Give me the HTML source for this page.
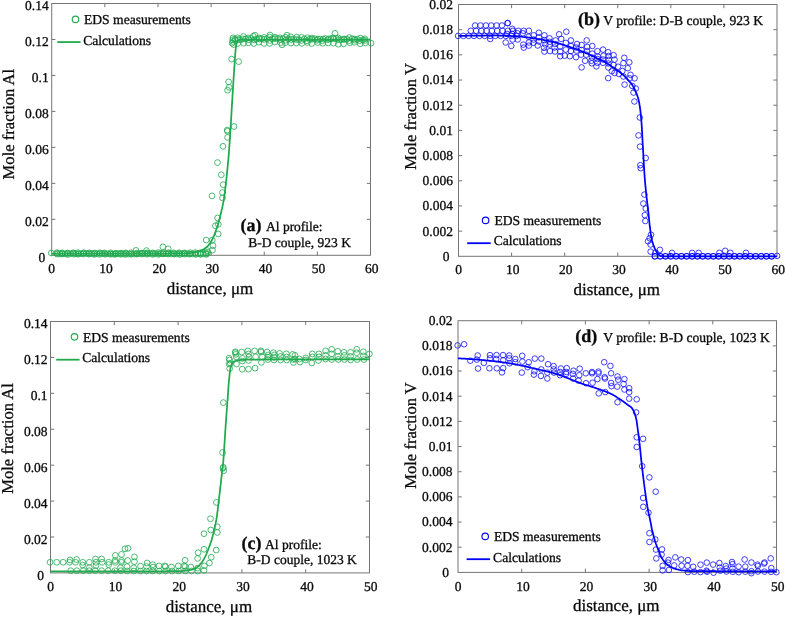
<!DOCTYPE html>
<html><head><meta charset="utf-8"><title>Diffusion profiles</title>
<style>
html,body{margin:0;padding:0;background:#fff;}
svg{display:block;font-family:"Liberation Serif","DejaVu Serif",serif;}
text{fill:#0a0a0a;stroke:#0a0a0a;stroke-width:0.3px;text-rendering:geometricPrecision;}
</style></head><body>
<svg width="785" height="617" viewBox="0 0 785 617">
<rect width="785" height="617" fill="#fff"/>
<g>
<rect x="51.7" y="3.5" width="318.8" height="251.8" fill="none" stroke="#757575" stroke-width="1"/>
<text x="51.70" y="273.4" text-anchor="middle" font-size="13.5">0</text>
<path d="M104.83 255.3 v-3.7 M104.83 3.5 v3.7" stroke="#757575" stroke-width="1" fill="none"/>
<text x="106.03" y="273.4" text-anchor="middle" font-size="13.5">10</text>
<path d="M157.97 255.3 v-3.7 M157.97 3.5 v3.7" stroke="#757575" stroke-width="1" fill="none"/>
<text x="159.17" y="273.4" text-anchor="middle" font-size="13.5">20</text>
<path d="M211.10 255.3 v-3.7 M211.10 3.5 v3.7" stroke="#757575" stroke-width="1" fill="none"/>
<text x="212.30" y="273.4" text-anchor="middle" font-size="13.5">30</text>
<path d="M264.23 255.3 v-3.7 M264.23 3.5 v3.7" stroke="#757575" stroke-width="1" fill="none"/>
<text x="265.43" y="273.4" text-anchor="middle" font-size="13.5">40</text>
<path d="M317.37 255.3 v-3.7 M317.37 3.5 v3.7" stroke="#757575" stroke-width="1" fill="none"/>
<text x="318.57" y="273.4" text-anchor="middle" font-size="13.5">50</text>
<text x="371.70" y="273.4" text-anchor="middle" font-size="13.5">60</text>
<text x="45.2" y="262.20" text-anchor="end" font-size="13.5">0</text>
<path d="M51.7 219.33 h3.7 M370.5 219.33 h-3.7" stroke="#757575" stroke-width="1" fill="none"/>
<text x="48.7" y="226.23" text-anchor="end" font-size="13.5">0.02</text>
<path d="M51.7 183.36 h3.7 M370.5 183.36 h-3.7" stroke="#757575" stroke-width="1" fill="none"/>
<text x="48.7" y="190.26" text-anchor="end" font-size="13.5">0.04</text>
<path d="M51.7 147.39 h3.7 M370.5 147.39 h-3.7" stroke="#757575" stroke-width="1" fill="none"/>
<text x="48.7" y="154.29" text-anchor="end" font-size="13.5">0.06</text>
<path d="M51.7 111.41 h3.7 M370.5 111.41 h-3.7" stroke="#757575" stroke-width="1" fill="none"/>
<text x="48.7" y="118.31" text-anchor="end" font-size="13.5">0.08</text>
<path d="M51.7 75.44 h3.7 M370.5 75.44 h-3.7" stroke="#757575" stroke-width="1" fill="none"/>
<text x="48.7" y="82.34" text-anchor="end" font-size="13.5">0.1</text>
<path d="M51.7 39.47 h3.7 M370.5 39.47 h-3.7" stroke="#757575" stroke-width="1" fill="none"/>
<text x="48.7" y="46.37" text-anchor="end" font-size="13.5">0.12</text>
<text x="48.7" y="10.40" text-anchor="end" font-size="13.5">0.14</text>
<text transform="translate(14 124.1) rotate(-90)" text-anchor="middle" font-size="16.6">Mole fraction Al</text>
<text x="210.0" y="294.2" text-anchor="middle" font-size="17">distance, μm</text>
<g fill="none" stroke="#1faa4e" stroke-width="0.8"><circle cx="228.6" cy="81.9" r="2.9"/><circle cx="229.1" cy="87.3" r="2.9"/><circle cx="227.6" cy="90.2" r="2.9"/><circle cx="234.0" cy="126.5" r="2.9"/><circle cx="227.2" cy="130.1" r="2.9"/><circle cx="227.6" cy="137.4" r="2.9"/><circle cx="223.0" cy="146.3" r="2.9"/><circle cx="217.5" cy="162.6" r="2.9"/><circle cx="221.3" cy="174.8" r="2.9"/><circle cx="223.2" cy="184.7" r="2.9"/><circle cx="222.5" cy="192.5" r="2.9"/><circle cx="212.0" cy="195.9" r="2.9"/><circle cx="222.5" cy="197.9" r="2.9"/><circle cx="217.6" cy="218.0" r="2.9"/><circle cx="218.3" cy="224.3" r="2.9"/><circle cx="215.4" cy="225.8" r="2.9"/><circle cx="218.2" cy="234.0" r="2.9"/><circle cx="206.2" cy="240.1" r="2.9"/><circle cx="212.3" cy="240.1" r="2.9"/><circle cx="213.0" cy="245.7" r="2.9"/><circle cx="212.5" cy="250.1" r="2.9"/><circle cx="207.2" cy="250.6" r="2.9"/><circle cx="231.6" cy="59.1" r="2.9"/><circle cx="238.7" cy="61.6" r="2.9"/><circle cx="227.5" cy="131.2" r="2.9"/><circle cx="51.3" cy="253.0" r="2.9"/><circle cx="56.9" cy="252.7" r="2.9"/><circle cx="57.3" cy="253.3" r="2.9"/><circle cx="57.2" cy="254.1" r="2.9"/><circle cx="62.0" cy="252.9" r="2.9"/><circle cx="62.0" cy="253.6" r="2.9"/><circle cx="62.0" cy="254.0" r="2.9"/><circle cx="67.7" cy="253.1" r="2.9"/><circle cx="67.4" cy="253.4" r="2.9"/><circle cx="67.9" cy="254.5" r="2.9"/><circle cx="73.1" cy="252.8" r="2.9"/><circle cx="73.5" cy="253.3" r="2.9"/><circle cx="73.4" cy="254.1" r="2.9"/><circle cx="78.0" cy="252.7" r="2.9"/><circle cx="78.2" cy="253.8" r="2.9"/><circle cx="78.1" cy="254.2" r="2.9"/><circle cx="83.8" cy="252.8" r="2.9"/><circle cx="83.7" cy="253.3" r="2.9"/><circle cx="83.2" cy="254.0" r="2.9"/><circle cx="89.2" cy="252.9" r="2.9"/><circle cx="88.8" cy="253.7" r="2.9"/><circle cx="89.0" cy="254.1" r="2.9"/><circle cx="94.6" cy="253.0" r="2.9"/><circle cx="94.1" cy="253.6" r="2.9"/><circle cx="94.3" cy="254.4" r="2.9"/><circle cx="99.9" cy="252.8" r="2.9"/><circle cx="100.1" cy="253.4" r="2.9"/><circle cx="99.6" cy="254.4" r="2.9"/><circle cx="104.6" cy="252.9" r="2.9"/><circle cx="104.5" cy="253.7" r="2.9"/><circle cx="105.2" cy="254.2" r="2.9"/><circle cx="110.6" cy="252.8" r="2.9"/><circle cx="110.5" cy="253.7" r="2.9"/><circle cx="110.3" cy="254.2" r="2.9"/><circle cx="115.9" cy="253.2" r="2.9"/><circle cx="115.6" cy="253.7" r="2.9"/><circle cx="115.1" cy="254.3" r="2.9"/><circle cx="121.0" cy="253.2" r="2.9"/><circle cx="121.2" cy="253.5" r="2.9"/><circle cx="120.8" cy="254.3" r="2.9"/><circle cx="125.7" cy="252.9" r="2.9"/><circle cx="125.9" cy="253.4" r="2.9"/><circle cx="125.8" cy="254.4" r="2.9"/><circle cx="131.2" cy="252.7" r="2.9"/><circle cx="131.4" cy="253.8" r="2.9"/><circle cx="131.1" cy="254.2" r="2.9"/><circle cx="136.9" cy="253.1" r="2.9"/><circle cx="137.2" cy="253.8" r="2.9"/><circle cx="136.6" cy="254.1" r="2.9"/><circle cx="142.0" cy="253.1" r="2.9"/><circle cx="142.6" cy="253.4" r="2.9"/><circle cx="141.8" cy="254.0" r="2.9"/><circle cx="147.2" cy="252.9" r="2.9"/><circle cx="147.6" cy="253.5" r="2.9"/><circle cx="147.0" cy="254.2" r="2.9"/><circle cx="152.7" cy="252.9" r="2.9"/><circle cx="153.2" cy="253.7" r="2.9"/><circle cx="152.8" cy="254.3" r="2.9"/><circle cx="158.3" cy="252.6" r="2.9"/><circle cx="158.5" cy="253.8" r="2.9"/><circle cx="158.5" cy="254.4" r="2.9"/><circle cx="163.3" cy="252.8" r="2.9"/><circle cx="163.0" cy="253.7" r="2.9"/><circle cx="163.0" cy="253.9" r="2.9"/><circle cx="168.4" cy="252.7" r="2.9"/><circle cx="168.6" cy="253.3" r="2.9"/><circle cx="168.2" cy="254.0" r="2.9"/><circle cx="173.6" cy="252.8" r="2.9"/><circle cx="173.6" cy="253.8" r="2.9"/><circle cx="174.2" cy="254.0" r="2.9"/><circle cx="179.1" cy="252.8" r="2.9"/><circle cx="179.2" cy="253.4" r="2.9"/><circle cx="179.7" cy="254.5" r="2.9"/><circle cx="184.6" cy="252.9" r="2.9"/><circle cx="184.3" cy="253.4" r="2.9"/><circle cx="184.5" cy="254.1" r="2.9"/><circle cx="190.3" cy="252.7" r="2.9"/><circle cx="189.5" cy="253.9" r="2.9"/><circle cx="190.0" cy="254.0" r="2.9"/><circle cx="195.3" cy="252.6" r="2.9"/><circle cx="195.3" cy="253.9" r="2.9"/><circle cx="195.7" cy="254.3" r="2.9"/><circle cx="200.4" cy="252.8" r="2.9"/><circle cx="200.3" cy="253.8" r="2.9"/><circle cx="200.7" cy="254.4" r="2.9"/><circle cx="205.8" cy="252.7" r="2.9"/><circle cx="206.2" cy="253.9" r="2.9"/><circle cx="206.3" cy="254.4" r="2.9"/><circle cx="59.8" cy="253.9" r="2.9"/><circle cx="65.1" cy="253.8" r="2.9"/><circle cx="70.4" cy="253.5" r="2.9"/><circle cx="75.7" cy="253.7" r="2.9"/><circle cx="81.0" cy="253.6" r="2.9"/><circle cx="86.3" cy="253.4" r="2.9"/><circle cx="91.7" cy="253.4" r="2.9"/><circle cx="97.0" cy="253.6" r="2.9"/><circle cx="102.3" cy="253.6" r="2.9"/><circle cx="107.6" cy="253.8" r="2.9"/><circle cx="112.9" cy="254.0" r="2.9"/><circle cx="118.2" cy="253.7" r="2.9"/><circle cx="123.6" cy="254.0" r="2.9"/><circle cx="128.9" cy="254.0" r="2.9"/><circle cx="134.2" cy="254.0" r="2.9"/><circle cx="139.5" cy="253.6" r="2.9"/><circle cx="144.8" cy="253.5" r="2.9"/><circle cx="150.1" cy="253.5" r="2.9"/><circle cx="155.4" cy="253.5" r="2.9"/><circle cx="160.8" cy="253.5" r="2.9"/><circle cx="166.1" cy="253.8" r="2.9"/><circle cx="171.4" cy="253.9" r="2.9"/><circle cx="176.7" cy="253.9" r="2.9"/><circle cx="182.0" cy="253.7" r="2.9"/><circle cx="187.3" cy="253.8" r="2.9"/><circle cx="192.6" cy="253.9" r="2.9"/><circle cx="198.0" cy="253.5" r="2.9"/><circle cx="203.3" cy="253.8" r="2.9"/><circle cx="162.9" cy="246.9" r="2.9"/><circle cx="168.2" cy="248.8" r="2.9"/><circle cx="207.7" cy="252.4" r="2.9"/><circle cx="136.0" cy="250.4" r="2.9"/><circle cx="146.5" cy="250.6" r="2.9"/><circle cx="233.0" cy="37.8" r="2.9"/><circle cx="232.8" cy="39.6" r="2.9"/><circle cx="232.1" cy="43.2" r="2.9"/><circle cx="237.6" cy="37.8" r="2.9"/><circle cx="238.4" cy="39.4" r="2.9"/><circle cx="237.7" cy="43.5" r="2.9"/><circle cx="243.4" cy="36.5" r="2.9"/><circle cx="242.7" cy="38.9" r="2.9"/><circle cx="243.6" cy="43.2" r="2.9"/><circle cx="248.0" cy="37.9" r="2.9"/><circle cx="249.0" cy="39.9" r="2.9"/><circle cx="248.3" cy="42.7" r="2.9"/><circle cx="253.3" cy="36.2" r="2.9"/><circle cx="254.3" cy="39.9" r="2.9"/><circle cx="253.8" cy="43.5" r="2.9"/><circle cx="259.0" cy="37.9" r="2.9"/><circle cx="259.5" cy="39.0" r="2.9"/><circle cx="258.8" cy="42.2" r="2.9"/><circle cx="264.1" cy="37.4" r="2.9"/><circle cx="264.1" cy="39.4" r="2.9"/><circle cx="264.0" cy="43.4" r="2.9"/><circle cx="269.5" cy="37.1" r="2.9"/><circle cx="269.8" cy="40.4" r="2.9"/><circle cx="269.6" cy="43.4" r="2.9"/><circle cx="275.0" cy="37.3" r="2.9"/><circle cx="275.1" cy="38.6" r="2.9"/><circle cx="275.0" cy="42.0" r="2.9"/><circle cx="279.7" cy="37.8" r="2.9"/><circle cx="280.0" cy="39.5" r="2.9"/><circle cx="280.6" cy="42.7" r="2.9"/><circle cx="285.5" cy="37.2" r="2.9"/><circle cx="285.7" cy="40.2" r="2.9"/><circle cx="285.2" cy="42.7" r="2.9"/><circle cx="290.7" cy="36.8" r="2.9"/><circle cx="291.3" cy="39.6" r="2.9"/><circle cx="291.0" cy="43.1" r="2.9"/><circle cx="296.8" cy="37.1" r="2.9"/><circle cx="296.4" cy="39.6" r="2.9"/><circle cx="296.3" cy="43.0" r="2.9"/><circle cx="301.5" cy="37.3" r="2.9"/><circle cx="301.6" cy="40.5" r="2.9"/><circle cx="301.8" cy="43.4" r="2.9"/><circle cx="307.5" cy="37.7" r="2.9"/><circle cx="307.0" cy="40.7" r="2.9"/><circle cx="307.3" cy="42.5" r="2.9"/><circle cx="311.8" cy="38.1" r="2.9"/><circle cx="311.7" cy="39.3" r="2.9"/><circle cx="311.7" cy="43.5" r="2.9"/><circle cx="317.9" cy="39.0" r="2.9"/><circle cx="317.1" cy="40.2" r="2.9"/><circle cx="317.7" cy="42.5" r="2.9"/><circle cx="323.3" cy="39.1" r="2.9"/><circle cx="322.5" cy="40.7" r="2.9"/><circle cx="322.7" cy="43.2" r="2.9"/><circle cx="328.8" cy="38.9" r="2.9"/><circle cx="327.8" cy="39.7" r="2.9"/><circle cx="328.2" cy="42.9" r="2.9"/><circle cx="333.1" cy="37.8" r="2.9"/><circle cx="333.8" cy="38.8" r="2.9"/><circle cx="333.6" cy="43.1" r="2.9"/><circle cx="338.2" cy="37.9" r="2.9"/><circle cx="339.0" cy="39.8" r="2.9"/><circle cx="338.3" cy="44.2" r="2.9"/><circle cx="344.5" cy="39.1" r="2.9"/><circle cx="343.7" cy="39.3" r="2.9"/><circle cx="343.6" cy="43.8" r="2.9"/><circle cx="349.2" cy="37.5" r="2.9"/><circle cx="349.3" cy="40.6" r="2.9"/><circle cx="349.8" cy="42.7" r="2.9"/><circle cx="354.3" cy="39.0" r="2.9"/><circle cx="354.8" cy="40.2" r="2.9"/><circle cx="354.3" cy="42.3" r="2.9"/><circle cx="360.3" cy="38.1" r="2.9"/><circle cx="359.6" cy="40.7" r="2.9"/><circle cx="360.2" cy="43.8" r="2.9"/><circle cx="364.9" cy="38.9" r="2.9"/><circle cx="364.9" cy="40.5" r="2.9"/><circle cx="365.3" cy="42.9" r="2.9"/><circle cx="235.2" cy="39.3" r="2.9"/><circle cx="240.5" cy="39.9" r="2.9"/><circle cx="245.8" cy="38.8" r="2.9"/><circle cx="251.1" cy="38.6" r="2.9"/><circle cx="256.4" cy="39.2" r="2.9"/><circle cx="261.7" cy="38.8" r="2.9"/><circle cx="267.1" cy="38.6" r="2.9"/><circle cx="272.4" cy="38.7" r="2.9"/><circle cx="277.7" cy="38.5" r="2.9"/><circle cx="283.0" cy="38.7" r="2.9"/><circle cx="288.3" cy="38.9" r="2.9"/><circle cx="293.6" cy="38.9" r="2.9"/><circle cx="298.9" cy="39.6" r="2.9"/><circle cx="304.3" cy="38.9" r="2.9"/><circle cx="309.6" cy="39.2" r="2.9"/><circle cx="314.9" cy="38.7" r="2.9"/><circle cx="320.2" cy="39.0" r="2.9"/><circle cx="325.5" cy="38.4" r="2.9"/><circle cx="330.8" cy="38.8" r="2.9"/><circle cx="336.2" cy="38.4" r="2.9"/><circle cx="341.5" cy="39.6" r="2.9"/><circle cx="346.8" cy="39.3" r="2.9"/><circle cx="352.1" cy="38.7" r="2.9"/><circle cx="357.4" cy="39.2" r="2.9"/><circle cx="362.7" cy="39.9" r="2.9"/><circle cx="335.0" cy="33.3" r="2.9"/><circle cx="371.0" cy="43.2" r="2.9"/><circle cx="232.8" cy="41.5" r="2.9"/><circle cx="233.6" cy="44.5" r="2.9"/><circle cx="235.2" cy="40.3" r="2.9"/><circle cx="282.0" cy="44.8" r="2.9"/><circle cx="255.0" cy="35.2" r="2.9"/><circle cx="270.0" cy="35.0" r="2.9"/><circle cx="287.0" cy="35.2" r="2.9"/></g>
<path d="M51.7 253.5 L52.7 253.5 L53.7 253.5 L54.7 253.5 L55.7 253.5 L56.7 253.5 L57.7 253.5 L58.7 253.5 L59.7 253.5 L60.7 253.5 L61.7 253.5 L62.7 253.5 L63.7 253.5 L64.7 253.5 L65.7 253.5 L66.7 253.5 L67.7 253.5 L68.7 253.5 L69.7 253.5 L70.7 253.5 L71.7 253.5 L72.7 253.5 L73.7 253.5 L74.7 253.5 L75.7 253.5 L76.7 253.5 L77.7 253.5 L78.7 253.5 L79.7 253.5 L80.7 253.5 L81.7 253.5 L82.7 253.5 L83.7 253.5 L84.7 253.5 L85.7 253.5 L86.7 253.5 L87.7 253.5 L88.7 253.5 L89.7 253.5 L90.7 253.5 L91.7 253.5 L92.7 253.5 L93.7 253.5 L94.7 253.5 L95.7 253.5 L96.7 253.5 L97.7 253.5 L98.7 253.5 L99.7 253.5 L100.7 253.5 L101.7 253.5 L102.7 253.5 L103.7 253.5 L104.7 253.5 L105.7 253.5 L106.7 253.5 L107.7 253.5 L108.7 253.5 L109.7 253.5 L110.7 253.5 L111.7 253.5 L112.7 253.5 L113.7 253.5 L114.7 253.5 L115.7 253.5 L116.7 253.5 L117.7 253.5 L118.7 253.5 L119.7 253.5 L120.7 253.5 L121.7 253.5 L122.7 253.5 L123.7 253.5 L124.7 253.5 L125.7 253.5 L126.7 253.5 L127.7 253.5 L128.7 253.5 L129.7 253.5 L130.7 253.5 L131.7 253.5 L132.7 253.5 L133.7 253.5 L134.7 253.5 L135.7 253.5 L136.7 253.5 L137.7 253.5 L138.7 253.5 L139.7 253.5 L140.7 253.5 L141.7 253.5 L142.7 253.5 L143.7 253.5 L144.7 253.5 L145.7 253.5 L146.7 253.5 L147.7 253.5 L148.7 253.5 L149.7 253.5 L150.7 253.5 L151.7 253.5 L152.7 253.5 L153.7 253.5 L154.7 253.5 L155.7 253.5 L156.7 253.5 L157.7 253.5 L158.7 253.5 L159.7 253.5 L160.7 253.5 L161.7 253.5 L162.7 253.5 L163.7 253.5 L164.7 253.5 L165.7 253.5 L166.7 253.5 L167.7 253.5 L168.7 253.4 L169.7 253.4 L170.7 253.4 L171.7 253.4 L172.7 253.4 L173.7 253.4 L174.7 253.4 L175.7 253.4 L176.7 253.4 L177.7 253.4 L178.7 253.4 L179.7 253.4 L180.7 253.4 L181.7 253.3 L182.7 253.3 L183.7 253.3 L184.7 253.3 L185.7 253.3 L186.7 253.3 L187.7 253.2 L188.7 253.2 L189.7 253.1 L190.7 253.0 L191.7 252.9 L192.7 252.8 L193.7 252.7 L194.7 252.5 L195.6 252.4 L196.6 252.2 L197.6 251.9 L198.5 251.5 L199.5 251.2 L200.4 250.8 L201.3 250.4 L202.2 249.9 L203.1 249.4 L204.0 248.9 L204.8 248.4 L205.6 247.8 L206.4 247.2 L207.1 246.5 L207.9 245.8 L208.6 245.1 L209.2 244.3 L209.8 243.5 L210.4 242.7 L210.9 241.9 L211.4 241.0 L211.9 240.1 L212.4 239.2 L212.8 238.3 L213.2 237.4 L213.6 236.5 L214.0 235.6 L214.4 234.6 L214.8 233.7 L215.1 232.8 L215.5 231.8 L215.8 230.9 L216.1 229.9 L216.5 229.0 L216.8 228.1 L217.1 227.1 L217.4 226.2 L217.7 225.2 L218.0 224.2 L218.2 223.3 L218.5 222.3 L218.8 221.3 L219.1 220.4 L219.3 219.4 L219.6 218.5 L219.8 217.5 L220.1 216.5 L220.3 215.6 L220.6 214.6 L220.8 213.6 L221.1 212.6 L221.3 211.7 L221.5 210.7 L221.7 209.7 L222.0 208.7 L222.2 207.8 L222.4 206.8 L222.6 205.8 L222.8 204.8 L223.0 203.8 L223.2 202.9 L223.4 201.9 L223.6 200.9 L223.7 199.9 L223.9 198.9 L224.0 197.9 L224.2 197.0 L224.3 196.0 L224.5 195.0 L224.6 194.0 L224.7 193.0 L224.9 192.0 L225.0 191.0 L225.1 190.0 L225.2 189.0 L225.4 188.0 L225.5 187.0 L225.6 186.0 L225.7 185.0 L225.8 184.1 L225.9 183.1 L226.0 182.1 L226.2 181.1 L226.3 180.1 L226.4 179.1 L226.5 178.1 L226.6 177.1 L226.7 176.1 L226.8 175.1 L226.9 174.1 L227.0 173.1 L227.1 172.1 L227.2 171.1 L227.3 170.1 L227.4 169.1 L227.5 168.1 L227.6 167.2 L227.7 166.2 L227.8 165.2 L227.9 164.2 L228.0 163.2 L228.1 162.2 L228.2 161.2 L228.3 160.2 L228.4 159.2 L228.5 158.2 L228.5 157.2 L228.6 156.2 L228.7 155.2 L228.8 154.2 L228.9 153.2 L228.9 152.2 L229.0 151.2 L229.1 150.2 L229.2 149.2 L229.2 148.2 L229.3 147.2 L229.4 146.2 L229.4 145.2 L229.5 144.2 L229.6 143.2 L229.6 142.2 L229.7 141.2 L229.8 140.2 L229.9 139.2 L229.9 138.2 L230.0 137.2 L230.0 136.2 L230.1 135.2 L230.2 134.2 L230.2 133.3 L230.3 132.3 L230.4 131.3 L230.4 130.3 L230.5 129.3 L230.6 128.3 L230.6 127.3 L230.7 126.3 L230.7 125.3 L230.8 124.3 L230.9 123.3 L230.9 122.3 L231.0 121.3 L231.0 120.3 L231.1 119.3 L231.2 118.3 L231.2 117.3 L231.3 116.3 L231.3 115.3 L231.4 114.3 L231.5 113.3 L231.5 112.3 L231.6 111.3 L231.6 110.3 L231.7 109.3 L231.8 108.3 L231.8 107.3 L231.9 106.3 L231.9 105.3 L232.0 104.3 L232.1 103.3 L232.1 102.3 L232.2 101.3 L232.2 100.3 L232.3 99.3 L232.4 98.3 L232.4 97.3 L232.5 96.3 L232.5 95.3 L232.6 94.3 L232.7 93.3 L232.7 92.3 L232.8 91.3 L232.8 90.3 L232.9 89.3 L233.0 88.3 L233.0 87.3 L233.1 86.3 L233.2 85.3 L233.2 84.3 L233.3 83.3 L233.3 82.3 L233.4 81.3 L233.5 80.4 L233.5 79.4 L233.6 78.4 L233.7 77.4 L233.7 76.4 L233.8 75.4 L233.9 74.4 L233.9 73.4 L234.0 72.4 L234.1 71.4 L234.1 70.4 L234.2 69.4 L234.3 68.4 L234.3 67.4 L234.4 66.4 L234.5 65.4 L234.6 64.4 L234.6 63.4 L234.7 62.4 L234.8 61.4 L234.8 60.4 L234.9 59.4 L235.0 58.4 L235.0 57.4 L235.1 56.4 L235.2 55.4 L235.2 54.4 L235.3 53.4 L235.4 52.4 L235.5 51.4 L235.5 50.4 L235.6 49.4 L235.8 48.4 L235.9 47.4 L236.0 46.4 L236.2 45.5 L236.4 44.5 L236.7 43.5 L237.1 42.6 L237.5 41.7 L238.0 40.7 L238.7 40.1 L239.6 39.8 L240.6 39.6 L241.6 39.6 L242.6 39.6 L243.6 39.6 L244.6 39.6 L245.6 39.5 L246.6 39.5 L247.6 39.5 L248.6 39.5 L249.6 39.5 L250.6 39.5 L251.6 39.5 L252.6 39.5 L253.6 39.5 L254.6 39.5 L255.6 39.5 L256.6 39.5 L257.6 39.5 L258.6 39.5 L259.6 39.5 L260.6 39.5 L261.6 39.5 L262.6 39.5 L263.6 39.5 L264.6 39.5 L265.6 39.5 L266.6 39.5 L267.6 39.5 L268.6 39.5 L269.6 39.5 L270.6 39.5 L271.6 39.5 L272.6 39.5 L273.6 39.5 L274.6 39.5 L275.6 39.5 L276.6 39.5 L277.6 39.5 L278.6 39.5 L279.6 39.5 L280.6 39.5 L281.6 39.5 L282.6 39.5 L283.6 39.5 L284.6 39.5 L285.6 39.5 L286.6 39.5 L287.6 39.5 L288.6 39.5 L289.6 39.5 L290.6 39.5 L291.6 39.5 L292.6 39.5 L293.6 39.5 L294.6 39.5 L295.6 39.5 L296.6 39.5 L297.6 39.5 L298.6 39.5 L299.6 39.5 L300.6 39.5 L301.6 39.5 L302.6 39.5 L303.6 39.5 L304.6 39.5 L305.6 39.5 L306.6 39.5 L307.6 39.5 L308.6 39.5 L309.6 39.5 L310.6 39.5 L311.6 39.5 L312.6 39.5 L313.6 39.5 L314.6 39.5 L315.6 39.5 L316.6 39.5 L317.6 39.5 L318.6 39.5 L319.6 39.5 L320.6 39.5 L321.6 39.5 L322.6 39.5 L323.6 39.5 L324.6 39.5 L325.6 39.5 L326.6 39.5 L327.6 39.5 L328.6 39.5 L329.6 39.5 L330.6 39.5 L331.6 39.5 L332.6 39.5 L333.6 39.5 L334.6 39.5 L335.6 39.5 L336.6 39.5 L337.6 39.5 L338.6 39.5 L339.6 39.5 L340.6 39.5 L341.6 39.5 L342.6 39.5 L343.6 39.5 L344.6 39.5 L345.6 39.5 L346.6 39.5 L347.6 39.5 L348.6 39.5 L349.6 39.5 L350.6 39.5 L351.6 39.5 L352.6 39.5 L353.6 39.5 L354.6 39.5 L355.6 39.5 L356.6 39.5 L357.6 39.5 L358.6 39.5 L359.6 39.5 L360.6 39.5 L361.6 39.5 L362.6 39.5 L363.6 39.5 L364.6 39.5 L365.6 39.5 L366.6 39.5 L367.6 39.5 L368.6 39.5 L369.6 39.5 L370.5 39.5" fill="none" stroke="#1faa4e" stroke-width="1.75" stroke-linejoin="round"/>
<circle cx="75.5" cy="19.4" r="3.25" fill="none" stroke="#1faa4e" stroke-width="1.15"/>
<text x="84.0" y="23.5" font-size="13.6">EDS measurements</text>
<path d="M57.3 42.1 H80.6" stroke="#1faa4e" stroke-width="1.8" fill="none"/>
<text x="83.2" y="44.5" font-size="13.6">Calculations</text>
<text x="240.6" y="230.8" font-size="18" font-weight="bold">(a)</text>
<text x="266" y="230.8" font-size="13.5">Al profile:</text>
<text x="248.2" y="246.7" font-size="13.5">B-D couple, 923 K</text>
</g>
<g>
<rect x="458.5" y="4.5" width="318.5" height="251.8" fill="none" stroke="#757575" stroke-width="1"/>
<text x="458.50" y="274.4" text-anchor="middle" font-size="13.5">0</text>
<path d="M511.58 256.3 v-3.7 M511.58 4.5 v3.7" stroke="#757575" stroke-width="1" fill="none"/>
<text x="512.78" y="274.4" text-anchor="middle" font-size="13.5">10</text>
<path d="M564.67 256.3 v-3.7 M564.67 4.5 v3.7" stroke="#757575" stroke-width="1" fill="none"/>
<text x="565.87" y="274.4" text-anchor="middle" font-size="13.5">20</text>
<path d="M617.75 256.3 v-3.7 M617.75 4.5 v3.7" stroke="#757575" stroke-width="1" fill="none"/>
<text x="618.95" y="274.4" text-anchor="middle" font-size="13.5">30</text>
<path d="M670.83 256.3 v-3.7 M670.83 4.5 v3.7" stroke="#757575" stroke-width="1" fill="none"/>
<text x="672.03" y="274.4" text-anchor="middle" font-size="13.5">40</text>
<path d="M723.92 256.3 v-3.7 M723.92 4.5 v3.7" stroke="#757575" stroke-width="1" fill="none"/>
<text x="725.12" y="274.4" text-anchor="middle" font-size="13.5">50</text>
<text x="778.20" y="274.4" text-anchor="middle" font-size="13.5">60</text>
<text x="449.4" y="260.70" text-anchor="end" font-size="13.5">0</text>
<path d="M458.5 231.12 h3.7 M777.0 231.12 h-3.7" stroke="#757575" stroke-width="1" fill="none"/>
<text x="452.9" y="235.52" text-anchor="end" font-size="13.5">0.002</text>
<path d="M458.5 205.94 h3.7 M777.0 205.94 h-3.7" stroke="#757575" stroke-width="1" fill="none"/>
<text x="452.9" y="210.34" text-anchor="end" font-size="13.5">0.004</text>
<path d="M458.5 180.76 h3.7 M777.0 180.76 h-3.7" stroke="#757575" stroke-width="1" fill="none"/>
<text x="452.9" y="185.16" text-anchor="end" font-size="13.5">0.006</text>
<path d="M458.5 155.58 h3.7 M777.0 155.58 h-3.7" stroke="#757575" stroke-width="1" fill="none"/>
<text x="452.9" y="159.98" text-anchor="end" font-size="13.5">0.008</text>
<path d="M458.5 130.40 h3.7 M777.0 130.40 h-3.7" stroke="#757575" stroke-width="1" fill="none"/>
<text x="452.9" y="134.80" text-anchor="end" font-size="13.5">0.01</text>
<path d="M458.5 105.22 h3.7 M777.0 105.22 h-3.7" stroke="#757575" stroke-width="1" fill="none"/>
<text x="452.9" y="109.62" text-anchor="end" font-size="13.5">0.012</text>
<path d="M458.5 80.04 h3.7 M777.0 80.04 h-3.7" stroke="#757575" stroke-width="1" fill="none"/>
<text x="452.9" y="84.44" text-anchor="end" font-size="13.5">0.014</text>
<path d="M458.5 54.86 h3.7 M777.0 54.86 h-3.7" stroke="#757575" stroke-width="1" fill="none"/>
<text x="452.9" y="59.26" text-anchor="end" font-size="13.5">0.016</text>
<path d="M458.5 29.68 h3.7 M777.0 29.68 h-3.7" stroke="#757575" stroke-width="1" fill="none"/>
<text x="452.9" y="34.08" text-anchor="end" font-size="13.5">0.018</text>
<text x="452.9" y="8.90" text-anchor="end" font-size="13.5">0.02</text>
<text transform="translate(415.8 116.4) rotate(-90)" text-anchor="middle" font-size="16.6">Mole fraction V</text>
<text x="616.8" y="295.2" text-anchor="middle" font-size="17">distance, μm</text>
<g fill="none" stroke="#0000ff" stroke-width="0.75"><circle cx="613.6" cy="55.2" r="2.8"/><circle cx="614.5" cy="59.6" r="2.8"/><circle cx="624.3" cy="57.8" r="2.8"/><circle cx="629.3" cy="62.3" r="2.8"/><circle cx="623.4" cy="63.2" r="2.8"/><circle cx="627.8" cy="68.2" r="2.8"/><circle cx="613.6" cy="65.0" r="2.8"/><circle cx="618.0" cy="66.7" r="2.8"/><circle cx="611.8" cy="71.2" r="2.8"/><circle cx="614.5" cy="73.0" r="2.8"/><circle cx="618.9" cy="73.9" r="2.8"/><circle cx="623.4" cy="76.5" r="2.8"/><circle cx="630.5" cy="74.8" r="2.8"/><circle cx="634.6" cy="78.3" r="2.8"/><circle cx="629.6" cy="78.3" r="2.8"/><circle cx="624.6" cy="84.6" r="2.8"/><circle cx="632.3" cy="86.0" r="2.8"/><circle cx="635.8" cy="88.5" r="2.8"/><circle cx="633.5" cy="92.6" r="2.8"/><circle cx="634.4" cy="101.5" r="2.8"/><circle cx="639.8" cy="117.5" r="2.8"/><circle cx="638.5" cy="135.4" r="2.8"/><circle cx="640.0" cy="146.6" r="2.8"/><circle cx="645.7" cy="158.0" r="2.8"/><circle cx="640.3" cy="165.2" r="2.8"/><circle cx="640.7" cy="168.2" r="2.8"/><circle cx="644.4" cy="194.6" r="2.8"/><circle cx="643.3" cy="203.5" r="2.8"/><circle cx="645.7" cy="208.5" r="2.8"/><circle cx="644.8" cy="215.1" r="2.8"/><circle cx="645.3" cy="221.0" r="2.8"/><circle cx="651.0" cy="234.7" r="2.8"/><circle cx="649.6" cy="238.2" r="2.8"/><circle cx="648.0" cy="241.3" r="2.8"/><circle cx="650.6" cy="244.5" r="2.8"/><circle cx="650.6" cy="251.6" r="2.8"/><circle cx="655.5" cy="252.5" r="2.8"/><circle cx="659.9" cy="249.8" r="2.8"/><circle cx="672.0" cy="252.9" r="2.8"/><circle cx="458.1" cy="35.9" r="2.8"/><circle cx="463.4" cy="35.9" r="2.8"/><circle cx="468.7" cy="35.9" r="2.8"/><circle cx="474.0" cy="35.9" r="2.8"/><circle cx="479.4" cy="35.9" r="2.8"/><circle cx="484.7" cy="35.9" r="2.8"/><circle cx="490.0" cy="35.9" r="2.8"/><circle cx="495.3" cy="35.9" r="2.8"/><circle cx="500.6" cy="35.9" r="2.8"/><circle cx="505.9" cy="35.9" r="2.8"/><circle cx="511.2" cy="35.9" r="2.8"/><circle cx="516.6" cy="35.9" r="2.8"/><circle cx="470.8" cy="30.8" r="2.8"/><circle cx="476.1" cy="30.8" r="2.8"/><circle cx="481.4" cy="30.8" r="2.8"/><circle cx="486.6" cy="30.8" r="2.8"/><circle cx="491.9" cy="30.8" r="2.8"/><circle cx="497.2" cy="30.8" r="2.8"/><circle cx="502.5" cy="30.8" r="2.8"/><circle cx="507.8" cy="30.8" r="2.8"/><circle cx="513.0" cy="30.8" r="2.8"/><circle cx="518.3" cy="30.8" r="2.8"/><circle cx="523.6" cy="30.8" r="2.8"/><circle cx="528.9" cy="30.8" r="2.8"/><circle cx="475.1" cy="25.5" r="2.8"/><circle cx="480.5" cy="25.5" r="2.8"/><circle cx="485.9" cy="25.5" r="2.8"/><circle cx="491.2" cy="25.5" r="2.8"/><circle cx="496.6" cy="25.5" r="2.8"/><circle cx="501.9" cy="25.5" r="2.8"/><circle cx="507.5" cy="23.2" r="2.8"/><circle cx="512.3" cy="28.8" r="2.8"/><circle cx="490.2" cy="39.0" r="2.8"/><circle cx="505.7" cy="42.5" r="2.8"/><circle cx="511.3" cy="45.9" r="2.8"/><circle cx="512.6" cy="39.5" r="2.8"/><circle cx="523.3" cy="44.6" r="2.8"/><circle cx="523.8" cy="47.6" r="2.8"/><circle cx="528.9" cy="42.5" r="2.8"/><circle cx="528.9" cy="45.6" r="2.8"/><circle cx="517.7" cy="39.5" r="2.8"/><circle cx="517.4" cy="33.3" r="2.8"/><circle cx="522.8" cy="33.3" r="2.8"/><circle cx="507.0" cy="33.9" r="2.8"/><circle cx="512.1" cy="33.9" r="2.8"/><circle cx="538.8" cy="32.7" r="2.8"/><circle cx="533.7" cy="35.3" r="2.8"/><circle cx="544.4" cy="35.3" r="2.8"/><circle cx="528.6" cy="36.8" r="2.8"/><circle cx="538.8" cy="37.3" r="2.8"/><circle cx="549.5" cy="38.3" r="2.8"/><circle cx="537.7" cy="45.5" r="2.8"/><circle cx="545.4" cy="44.5" r="2.8"/><circle cx="549.5" cy="44.5" r="2.8"/><circle cx="544.4" cy="51.6" r="2.8"/><circle cx="550.0" cy="51.1" r="2.8"/><circle cx="554.6" cy="47.5" r="2.8"/><circle cx="555.6" cy="40.4" r="2.8"/><circle cx="559.1" cy="34.3" r="2.8"/><circle cx="566.3" cy="31.7" r="2.8"/><circle cx="561.2" cy="38.9" r="2.8"/><circle cx="565.8" cy="42.9" r="2.8"/><circle cx="560.2" cy="46.5" r="2.8"/><circle cx="560.2" cy="51.6" r="2.8"/><circle cx="560.2" cy="56.2" r="2.8"/><circle cx="564.8" cy="55.7" r="2.8"/><circle cx="565.8" cy="49.6" r="2.8"/><circle cx="570.9" cy="40.4" r="2.8"/><circle cx="570.9" cy="51.1" r="2.8"/><circle cx="569.9" cy="56.2" r="2.8"/><circle cx="576.0" cy="57.2" r="2.8"/><circle cx="576.5" cy="50.6" r="2.8"/><circle cx="577.0" cy="44.0" r="2.8"/><circle cx="581.6" cy="45.0" r="2.8"/><circle cx="581.1" cy="54.7" r="2.8"/><circle cx="586.7" cy="40.4" r="2.8"/><circle cx="587.2" cy="47.0" r="2.8"/><circle cx="586.2" cy="54.7" r="2.8"/><circle cx="585.1" cy="60.8" r="2.8"/><circle cx="581.6" cy="67.4" r="2.8"/><circle cx="592.3" cy="46.0" r="2.8"/><circle cx="592.3" cy="53.6" r="2.8"/><circle cx="591.3" cy="60.8" r="2.8"/><circle cx="591.8" cy="63.3" r="2.8"/><circle cx="597.4" cy="51.1" r="2.8"/><circle cx="597.9" cy="56.7" r="2.8"/><circle cx="597.4" cy="62.8" r="2.8"/><circle cx="596.4" cy="66.4" r="2.8"/><circle cx="603.0" cy="49.6" r="2.8"/><circle cx="603.5" cy="55.7" r="2.8"/><circle cx="603.0" cy="62.8" r="2.8"/><circle cx="533.7" cy="39.5" r="2.8"/><circle cx="533.5" cy="42.8" r="2.8"/><circle cx="539.0" cy="41.5" r="2.8"/><circle cx="544.3" cy="40.2" r="2.8"/><circle cx="549.8" cy="41.8" r="2.8"/><circle cx="555.0" cy="44.0" r="2.8"/><circle cx="544.0" cy="47.8" r="2.8"/><circle cx="555.0" cy="51.5" r="2.8"/><circle cx="571.0" cy="46.0" r="2.8"/><circle cx="576.0" cy="47.5" r="2.8"/><circle cx="581.5" cy="50.0" r="2.8"/><circle cx="587.0" cy="51.0" r="2.8"/><circle cx="592.0" cy="57.5" r="2.8"/><circle cx="597.5" cy="59.0" r="2.8"/><circle cx="603.0" cy="59.5" r="2.8"/><circle cx="608.5" cy="56.0" r="2.8"/><circle cx="608.5" cy="63.5" r="2.8"/><circle cx="608.3" cy="67.5" r="2.8"/><circle cx="608.2" cy="52.2" r="2.8"/><circle cx="608.8" cy="59.9" r="2.8"/><circle cx="608.2" cy="78.1" r="2.8"/><circle cx="622.4" cy="71.0" r="2.8"/><circle cx="507.8" cy="23.0" r="2.8"/><circle cx="692.1" cy="252.9" r="2.8"/><circle cx="698.6" cy="252.9" r="2.8"/><circle cx="719.4" cy="252.8" r="2.8"/><circle cx="725.2" cy="250.8" r="2.8"/><circle cx="730.4" cy="252.8" r="2.8"/><circle cx="746.0" cy="252.8" r="2.8"/><circle cx="777.1" cy="255.9" r="2.8"/></g>
<g fill="none" stroke="#0000ff" stroke-width="1.15"><circle cx="654.9" cy="256.3" r="2.75"/><circle cx="660.2" cy="256.3" r="2.75"/><circle cx="665.5" cy="256.3" r="2.75"/><circle cx="670.8" cy="256.3" r="2.75"/><circle cx="676.1" cy="256.3" r="2.75"/><circle cx="681.4" cy="256.3" r="2.75"/><circle cx="686.7" cy="256.3" r="2.75"/><circle cx="692.1" cy="256.3" r="2.75"/><circle cx="697.4" cy="256.3" r="2.75"/><circle cx="702.7" cy="256.3" r="2.75"/><circle cx="708.0" cy="256.3" r="2.75"/><circle cx="713.3" cy="256.3" r="2.75"/><circle cx="718.6" cy="256.3" r="2.75"/><circle cx="723.9" cy="256.3" r="2.75"/><circle cx="729.2" cy="256.3" r="2.75"/><circle cx="734.5" cy="256.3" r="2.75"/><circle cx="739.8" cy="256.3" r="2.75"/><circle cx="745.1" cy="256.3" r="2.75"/><circle cx="750.4" cy="256.3" r="2.75"/><circle cx="755.7" cy="256.3" r="2.75"/><circle cx="761.1" cy="256.3" r="2.75"/><circle cx="766.4" cy="256.3" r="2.75"/><circle cx="771.7" cy="256.3" r="2.75"/></g>
<path d="M458.5 35.9 L459.5 35.9 L460.5 35.9 L461.5 35.8 L462.5 35.8 L463.5 35.8 L464.5 35.8 L465.5 35.8 L466.5 35.7 L467.5 35.7 L468.5 35.7 L469.5 35.7 L470.5 35.7 L471.5 35.7 L472.5 35.6 L473.5 35.6 L474.5 35.6 L475.5 35.6 L476.5 35.6 L477.5 35.6 L478.5 35.6 L479.5 35.5 L480.5 35.5 L481.5 35.5 L482.5 35.5 L483.5 35.5 L484.5 35.5 L485.5 35.5 L486.5 35.4 L487.5 35.4 L488.5 35.4 L489.5 35.4 L490.5 35.4 L491.5 35.4 L492.5 35.4 L493.5 35.4 L494.5 35.4 L495.5 35.4 L496.5 35.4 L497.5 35.4 L498.5 35.5 L499.5 35.5 L500.5 35.5 L501.5 35.5 L502.5 35.6 L503.5 35.6 L504.5 35.7 L505.5 35.7 L506.5 35.7 L507.5 35.8 L508.5 35.8 L509.5 35.9 L510.5 35.9 L511.5 36.0 L512.5 36.0 L513.5 36.1 L514.5 36.2 L515.5 36.2 L516.5 36.3 L517.5 36.4 L518.5 36.5 L519.5 36.6 L520.5 36.7 L521.5 36.7 L522.4 36.8 L523.4 37.0 L524.4 37.1 L525.4 37.2 L526.4 37.3 L527.4 37.4 L528.4 37.6 L529.4 37.7 L530.4 37.8 L531.4 38.0 L532.4 38.1 L533.4 38.3 L534.4 38.4 L535.3 38.6 L536.3 38.7 L537.3 38.9 L538.3 39.0 L539.3 39.2 L540.3 39.4 L541.3 39.5 L542.2 39.7 L543.2 39.9 L544.2 40.1 L545.2 40.3 L546.2 40.4 L547.2 40.6 L548.1 40.8 L549.1 41.1 L550.1 41.3 L551.1 41.5 L552.1 41.7 L553.0 41.9 L554.0 42.2 L555.0 42.4 L555.9 42.6 L556.9 42.9 L557.9 43.1 L558.8 43.4 L559.8 43.7 L560.7 44.0 L561.7 44.3 L562.7 44.6 L563.6 44.9 L564.6 45.2 L565.5 45.5 L566.5 45.8 L567.4 46.1 L568.4 46.4 L569.3 46.7 L570.3 47.1 L571.2 47.4 L572.2 47.7 L573.1 48.0 L574.1 48.3 L575.0 48.7 L575.9 49.0 L576.9 49.4 L577.8 49.7 L578.8 50.1 L579.7 50.4 L580.6 50.8 L581.5 51.2 L582.5 51.5 L583.4 51.9 L584.3 52.3 L585.2 52.7 L586.1 53.1 L587.1 53.5 L588.0 53.9 L588.9 54.4 L589.8 54.8 L590.7 55.2 L591.6 55.6 L592.5 56.0 L593.4 56.5 L594.3 56.9 L595.2 57.3 L596.1 57.7 L597.0 58.2 L597.9 58.6 L598.9 59.0 L599.8 59.5 L600.7 59.9 L601.6 60.3 L602.5 60.8 L603.3 61.2 L604.2 61.7 L605.1 62.2 L606.0 62.7 L606.8 63.2 L607.7 63.7 L608.5 64.2 L609.4 64.8 L610.2 65.3 L611.0 65.9 L611.8 66.5 L612.7 67.1 L613.5 67.6 L614.3 68.2 L615.1 68.8 L615.9 69.4 L616.7 70.0 L617.5 70.6 L618.4 71.1 L619.2 71.7 L620.0 72.3 L620.8 72.9 L621.6 73.6 L622.3 74.2 L623.1 74.8 L623.8 75.5 L624.5 76.2 L625.2 76.9 L625.9 77.6 L626.6 78.4 L627.3 79.1 L628.0 79.8 L628.6 80.6 L629.3 81.3 L630.0 82.1 L630.7 82.8 L631.3 83.6 L631.9 84.4 L632.5 85.2 L633.0 86.1 L633.5 86.9 L633.9 87.8 L634.4 88.7 L634.8 89.6 L635.2 90.5 L635.6 91.5 L636.0 92.4 L636.4 93.3 L636.8 94.2 L637.1 95.2 L637.5 96.1 L637.8 97.1 L638.1 98.0 L638.4 99.0 L638.6 99.9 L638.8 100.9 L639.0 101.9 L639.2 102.9 L639.4 103.9 L639.5 104.9 L639.7 105.8 L639.9 106.8 L640.0 107.8 L640.1 108.8 L640.3 109.8 L640.4 110.8 L640.5 111.8 L640.6 112.8 L640.7 113.8 L640.8 114.8 L640.9 115.8 L641.0 116.8 L641.1 117.8 L641.2 118.8 L641.3 119.8 L641.4 120.8 L641.4 121.7 L641.5 122.7 L641.6 123.7 L641.6 124.7 L641.7 125.7 L641.8 126.7 L641.8 127.7 L641.9 128.7 L641.9 129.7 L642.0 130.7 L642.1 131.7 L642.1 132.7 L642.2 133.7 L642.2 134.7 L642.3 135.7 L642.3 136.7 L642.4 137.7 L642.4 138.7 L642.5 139.7 L642.5 140.7 L642.6 141.7 L642.6 142.7 L642.7 143.7 L642.7 144.7 L642.8 145.7 L642.9 146.7 L642.9 147.7 L643.0 148.7 L643.0 149.7 L643.1 150.7 L643.1 151.7 L643.2 152.7 L643.3 153.7 L643.3 154.7 L643.4 155.7 L643.4 156.7 L643.5 157.7 L643.5 158.7 L643.6 159.7 L643.7 160.7 L643.7 161.7 L643.8 162.7 L643.8 163.7 L643.9 164.7 L643.9 165.7 L644.0 166.7 L644.1 167.7 L644.1 168.7 L644.2 169.7 L644.2 170.7 L644.3 171.7 L644.4 172.7 L644.4 173.7 L644.5 174.7 L644.6 175.7 L644.6 176.7 L644.7 177.7 L644.8 178.7 L644.9 179.6 L645.0 180.6 L645.0 181.6 L645.1 182.6 L645.2 183.6 L645.3 184.6 L645.4 185.6 L645.5 186.6 L645.6 187.6 L645.7 188.6 L645.8 189.6 L645.9 190.6 L646.0 191.6 L646.1 192.6 L646.2 193.6 L646.3 194.6 L646.4 195.6 L646.5 196.6 L646.6 197.6 L646.8 198.6 L646.9 199.5 L647.0 200.5 L647.1 201.5 L647.2 202.5 L647.3 203.5 L647.5 204.5 L647.6 205.5 L647.7 206.5 L647.8 207.5 L647.9 208.5 L648.0 209.5 L648.1 210.5 L648.3 211.5 L648.4 212.5 L648.5 213.5 L648.6 214.5 L648.7 215.5 L648.8 216.5 L648.9 217.5 L649.0 218.5 L649.1 219.5 L649.2 220.5 L649.3 221.5 L649.4 222.5 L649.5 223.5 L649.6 224.5 L649.7 225.5 L649.8 226.5 L650.0 227.5 L650.1 228.4 L650.2 229.4 L650.3 230.4 L650.5 231.4 L650.6 232.4 L650.7 233.4 L650.9 234.4 L651.1 235.4 L651.2 236.3 L651.4 237.3 L651.6 238.3 L651.8 239.3 L651.9 240.2 L652.2 241.2 L652.5 242.2 L652.8 243.1 L653.1 244.1 L653.4 245.0 L653.8 245.9 L654.1 246.9 L654.5 247.8 L654.9 248.7 L655.3 249.7 L655.8 250.5 L656.3 251.4 L656.8 252.3 L657.3 253.1 L657.9 253.9 L658.6 254.6 L659.4 255.3 L660.3 255.8 L661.2 256.0 L662.2 256.2 L663.2 256.2 L664.2 256.3 L665.3 256.3 L666.3 256.3 L667.3 256.3 L668.3 256.3 L669.2 256.3 L670.2 256.3 L671.2 256.3 L672.2 256.3 L673.2 256.3 L674.2 256.3 L675.2 256.3 L676.2 256.3 L677.2 256.3 L678.2 256.3 L679.2 256.3 L680.2 256.3 L681.2 256.3 L682.2 256.3 L683.2 256.3 L684.2 256.3 L685.2 256.3 L686.2 256.3 L687.2 256.3 L688.2 256.3 L689.2 256.3 L690.2 256.3 L691.2 256.3 L692.2 256.3 L693.2 256.3 L694.2 256.3 L695.2 256.3 L696.2 256.3 L697.2 256.3 L698.2 256.3 L699.2 256.3 L700.2 256.3 L701.2 256.3 L702.2 256.3 L703.2 256.3 L704.2 256.3 L705.2 256.3 L706.2 256.3 L707.2 256.3 L708.2 256.3 L709.2 256.3 L710.2 256.3 L711.2 256.3 L712.2 256.3 L713.2 256.3 L714.2 256.3 L715.2 256.3 L716.2 256.3 L717.2 256.3 L718.2 256.3 L719.2 256.3 L720.2 256.3 L721.2 256.3 L722.2 256.3 L723.2 256.3 L724.2 256.3 L725.2 256.3 L726.2 256.3 L727.2 256.3 L728.2 256.3 L729.2 256.3 L730.2 256.3 L731.2 256.3 L732.2 256.3 L733.2 256.3 L734.2 256.3 L735.2 256.3 L736.2 256.3 L737.2 256.3 L738.2 256.3 L739.2 256.3 L740.2 256.3 L741.2 256.3 L742.2 256.3 L743.2 256.3 L744.2 256.3 L745.2 256.3 L746.2 256.3 L747.2 256.3 L748.2 256.3 L749.2 256.3 L750.2 256.3 L751.2 256.3 L752.2 256.3 L753.2 256.3 L754.2 256.3 L755.2 256.3 L756.2 256.3 L757.2 256.3 L758.2 256.3 L759.2 256.3 L760.2 256.3 L761.2 256.3 L762.2 256.3 L763.2 256.3 L764.2 256.3 L765.2 256.3 L766.2 256.3 L767.2 256.3 L768.2 256.3 L769.2 256.3 L770.2 256.3 L771.2 256.3 L772.2 256.3 L773.2 256.3 L774.2 256.3 L775.3 256.3 L776.3 256.3 L777.0 256.3" fill="none" stroke="#0000ff" stroke-width="1.75" stroke-linejoin="round"/>
<circle cx="485.6" cy="220.4" r="3.25" fill="none" stroke="#0000ff" stroke-width="1.15"/>
<text x="494.4" y="224.9" font-size="13.6">EDS measurements</text>
<path d="M467.2 243.2 H490.7" stroke="#0000ff" stroke-width="1.8" fill="none"/>
<text x="493.7" y="245.2" font-size="13.6">Calculations</text>
<text x="578.0" y="25.4" font-size="18" font-weight="bold">(b)</text>
<text x="603.2" y="25.2" font-size="13.6">V profile: D-B couple, 923 K</text>
</g>
<g>
<rect x="50.5" y="321.5" width="319.0" height="251.39999999999998" fill="none" stroke="#757575" stroke-width="1"/>
<text x="50.50" y="591.0" text-anchor="middle" font-size="13.5">0</text>
<path d="M114.30 572.9 v-3.7 M114.30 321.5 v3.7" stroke="#757575" stroke-width="1" fill="none"/>
<text x="115.50" y="591.0" text-anchor="middle" font-size="13.5">10</text>
<path d="M178.10 572.9 v-3.7 M178.10 321.5 v3.7" stroke="#757575" stroke-width="1" fill="none"/>
<text x="179.30" y="591.0" text-anchor="middle" font-size="13.5">20</text>
<path d="M241.90 572.9 v-3.7 M241.90 321.5 v3.7" stroke="#757575" stroke-width="1" fill="none"/>
<text x="243.10" y="591.0" text-anchor="middle" font-size="13.5">30</text>
<path d="M305.70 572.9 v-3.7 M305.70 321.5 v3.7" stroke="#757575" stroke-width="1" fill="none"/>
<text x="306.90" y="591.0" text-anchor="middle" font-size="13.5">40</text>
<text x="370.70" y="591.0" text-anchor="middle" font-size="13.5">50</text>
<text x="44.0" y="579.80" text-anchor="end" font-size="13.5">0</text>
<path d="M50.5 536.99 h3.7 M369.5 536.99 h-3.7" stroke="#757575" stroke-width="1" fill="none"/>
<text x="47.5" y="543.89" text-anchor="end" font-size="13.5">0.02</text>
<path d="M50.5 501.07 h3.7 M369.5 501.07 h-3.7" stroke="#757575" stroke-width="1" fill="none"/>
<text x="47.5" y="507.97" text-anchor="end" font-size="13.5">0.04</text>
<path d="M50.5 465.16 h3.7 M369.5 465.16 h-3.7" stroke="#757575" stroke-width="1" fill="none"/>
<text x="47.5" y="472.06" text-anchor="end" font-size="13.5">0.06</text>
<path d="M50.5 429.24 h3.7 M369.5 429.24 h-3.7" stroke="#757575" stroke-width="1" fill="none"/>
<text x="47.5" y="436.14" text-anchor="end" font-size="13.5">0.08</text>
<path d="M50.5 393.33 h3.7 M369.5 393.33 h-3.7" stroke="#757575" stroke-width="1" fill="none"/>
<text x="47.5" y="400.23" text-anchor="end" font-size="13.5">0.1</text>
<path d="M50.5 357.41 h3.7 M369.5 357.41 h-3.7" stroke="#757575" stroke-width="1" fill="none"/>
<text x="47.5" y="364.31" text-anchor="end" font-size="13.5">0.12</text>
<text x="47.5" y="328.40" text-anchor="end" font-size="13.5">0.14</text>
<text transform="translate(13 438.5) rotate(-90)" text-anchor="middle" font-size="16.6">Mole fraction Al</text>
<text x="208.9" y="611.8" text-anchor="middle" font-size="17">distance, μm</text>
<g fill="none" stroke="#1faa4e" stroke-width="0.8"><circle cx="222.6" cy="452.5" r="2.9"/><circle cx="223.0" cy="468.3" r="2.9"/><circle cx="223.7" cy="470.6" r="2.9"/><circle cx="216.4" cy="502.4" r="2.9"/><circle cx="210.5" cy="518.7" r="2.9"/><circle cx="217.3" cy="526.8" r="2.9"/><circle cx="210.8" cy="530.0" r="2.9"/><circle cx="217.3" cy="532.5" r="2.9"/><circle cx="204.0" cy="533.7" r="2.9"/><circle cx="204.0" cy="549.3" r="2.9"/><circle cx="216.2" cy="550.0" r="2.9"/><circle cx="198.1" cy="552.7" r="2.9"/><circle cx="211.2" cy="557.2" r="2.9"/><circle cx="197.6" cy="558.4" r="2.9"/><circle cx="185.1" cy="560.2" r="2.9"/><circle cx="209.4" cy="563.1" r="2.9"/><circle cx="204.4" cy="565.9" r="2.9"/><circle cx="204.0" cy="570.4" r="2.9"/><circle cx="197.6" cy="568.1" r="2.9"/><circle cx="190.8" cy="567.0" r="2.9"/><circle cx="184.0" cy="565.9" r="2.9"/><circle cx="178.3" cy="565.9" r="2.9"/><circle cx="171.5" cy="567.0" r="2.9"/><circle cx="164.7" cy="565.9" r="2.9"/><circle cx="159.0" cy="565.9" r="2.9"/><circle cx="152.7" cy="564.7" r="2.9"/><circle cx="223.3" cy="402.6" r="2.9"/><circle cx="223.3" cy="467.2" r="2.9"/><circle cx="229.7" cy="368.5" r="2.9"/><circle cx="230.4" cy="363.6" r="2.9"/><circle cx="229.0" cy="358.3" r="2.9"/><circle cx="236.5" cy="364.0" r="2.9"/><circle cx="235.4" cy="352.7" r="2.9"/><circle cx="241.7" cy="352.0" r="2.9"/><circle cx="247.8" cy="350.9" r="2.9"/><circle cx="254.6" cy="350.9" r="2.9"/><circle cx="261.0" cy="352.0" r="2.9"/><circle cx="267.1" cy="352.0" r="2.9"/><circle cx="273.4" cy="352.7" r="2.9"/><circle cx="279.6" cy="353.4" r="2.9"/><circle cx="286.4" cy="353.8" r="2.9"/><circle cx="242.2" cy="369.2" r="2.9"/><circle cx="248.5" cy="369.2" r="2.9"/><circle cx="255.1" cy="368.1" r="2.9"/><circle cx="261.4" cy="362.4" r="2.9"/><circle cx="50.1" cy="562.3" r="2.9"/><circle cx="56.7" cy="562.3" r="2.9"/><circle cx="63.1" cy="562.3" r="2.9"/><circle cx="69.5" cy="562.3" r="2.9"/><circle cx="75.6" cy="562.3" r="2.9"/><circle cx="82.7" cy="562.3" r="2.9"/><circle cx="89.3" cy="562.3" r="2.9"/><circle cx="96.0" cy="562.3" r="2.9"/><circle cx="102.1" cy="562.3" r="2.9"/><circle cx="108.7" cy="562.3" r="2.9"/><circle cx="115.3" cy="562.3" r="2.9"/><circle cx="121.5" cy="562.3" r="2.9"/><circle cx="70.0" cy="560.0" r="2.9"/><circle cx="76.6" cy="559.5" r="2.9"/><circle cx="95.5" cy="559.0" r="2.9"/><circle cx="101.6" cy="559.0" r="2.9"/><circle cx="115.3" cy="555.4" r="2.9"/><circle cx="121.5" cy="554.4" r="2.9"/><circle cx="125.0" cy="548.8" r="2.9"/><circle cx="82.7" cy="565.1" r="2.9"/><circle cx="96.0" cy="565.6" r="2.9"/><circle cx="89.3" cy="567.6" r="2.9"/><circle cx="108.7" cy="564.6" r="2.9"/><circle cx="120.4" cy="567.6" r="2.9"/><circle cx="70.7" cy="570.7" r="2.9"/><circle cx="76.8" cy="570.7" r="2.9"/><circle cx="83.2" cy="570.7" r="2.9"/><circle cx="89.3" cy="570.7" r="2.9"/><circle cx="95.2" cy="570.7" r="2.9"/><circle cx="101.6" cy="570.7" r="2.9"/><circle cx="108.2" cy="570.7" r="2.9"/><circle cx="114.8" cy="570.7" r="2.9"/><circle cx="120.9" cy="570.7" r="2.9"/><circle cx="128.0" cy="548.3" r="2.9"/><circle cx="134.4" cy="556.9" r="2.9"/><circle cx="115.0" cy="560.5" r="2.9"/><circle cx="121.6" cy="560.5" r="2.9"/><circle cx="127.7" cy="560.5" r="2.9"/><circle cx="134.4" cy="561.7" r="2.9"/><circle cx="127.0" cy="566.6" r="2.9"/><circle cx="133.7" cy="567.8" r="2.9"/><circle cx="140.5" cy="566.1" r="2.9"/><circle cx="147.1" cy="563.0" r="2.9"/><circle cx="146.6" cy="566.6" r="2.9"/><circle cx="153.2" cy="567.1" r="2.9"/><circle cx="165.5" cy="566.6" r="2.9"/><circle cx="185.3" cy="566.6" r="2.9"/><circle cx="127.2" cy="571.0" r="2.9"/><circle cx="133.9" cy="571.0" r="2.9"/><circle cx="140.5" cy="571.0" r="2.9"/><circle cx="146.6" cy="571.0" r="2.9"/><circle cx="152.7" cy="571.0" r="2.9"/><circle cx="159.3" cy="571.0" r="2.9"/><circle cx="165.5" cy="571.0" r="2.9"/><circle cx="172.1" cy="571.0" r="2.9"/><circle cx="178.7" cy="571.0" r="2.9"/><circle cx="185.3" cy="571.0" r="2.9"/><circle cx="191.5" cy="571.0" r="2.9"/><circle cx="197.8" cy="571.0" r="2.9"/><circle cx="235.3" cy="351.8" r="2.9"/><circle cx="260.9" cy="350.8" r="2.9"/><circle cx="292.6" cy="354.4" r="2.9"/><circle cx="235.8" cy="354.4" r="2.9"/><circle cx="248.5" cy="353.9" r="2.9"/><circle cx="255.6" cy="356.9" r="2.9"/><circle cx="249.0" cy="356.9" r="2.9"/><circle cx="242.4" cy="358.4" r="2.9"/><circle cx="236.3" cy="356.9" r="2.9"/><circle cx="268.4" cy="354.9" r="2.9"/><circle cx="274.5" cy="354.9" r="2.9"/><circle cx="262.3" cy="356.9" r="2.9"/><circle cx="229.6" cy="360.0" r="2.9"/><circle cx="229.1" cy="364.0" r="2.9"/><circle cx="248.5" cy="360.5" r="2.9"/><circle cx="242.4" cy="361.0" r="2.9"/><circle cx="267.9" cy="359.5" r="2.9"/><circle cx="274.0" cy="360.0" r="2.9"/><circle cx="280.6" cy="360.0" r="2.9"/><circle cx="286.7" cy="360.0" r="2.9"/><circle cx="293.4" cy="359.5" r="2.9"/><circle cx="293.4" cy="362.5" r="2.9"/><circle cx="299.5" cy="359.0" r="2.9"/><circle cx="300.0" cy="362.0" r="2.9"/><circle cx="305.7" cy="357.9" r="2.9"/><circle cx="305.7" cy="360.0" r="2.9"/><circle cx="312.3" cy="353.9" r="2.9"/><circle cx="312.3" cy="356.9" r="2.9"/><circle cx="311.8" cy="363.0" r="2.9"/><circle cx="319.0" cy="353.9" r="2.9"/><circle cx="319.0" cy="356.9" r="2.9"/><circle cx="318.4" cy="360.5" r="2.9"/><circle cx="325.6" cy="350.8" r="2.9"/><circle cx="325.6" cy="355.4" r="2.9"/><circle cx="325.6" cy="359.0" r="2.9"/><circle cx="331.7" cy="349.3" r="2.9"/><circle cx="331.7" cy="353.9" r="2.9"/><circle cx="331.7" cy="359.5" r="2.9"/><circle cx="337.8" cy="351.3" r="2.9"/><circle cx="337.8" cy="356.4" r="2.9"/><circle cx="338.3" cy="359.5" r="2.9"/><circle cx="343.9" cy="352.3" r="2.9"/><circle cx="344.4" cy="355.4" r="2.9"/><circle cx="344.4" cy="359.5" r="2.9"/><circle cx="350.6" cy="352.3" r="2.9"/><circle cx="350.6" cy="356.4" r="2.9"/><circle cx="350.6" cy="360.0" r="2.9"/><circle cx="356.7" cy="349.3" r="2.9"/><circle cx="356.7" cy="352.8" r="2.9"/><circle cx="357.2" cy="359.5" r="2.9"/><circle cx="363.3" cy="351.8" r="2.9"/><circle cx="363.3" cy="355.9" r="2.9"/><circle cx="363.8" cy="359.5" r="2.9"/><circle cx="369.4" cy="353.9" r="2.9"/><circle cx="295.0" cy="359.0" r="2.9"/><circle cx="295.0" cy="355.4" r="2.9"/><circle cx="280.4" cy="356.5" r="2.9"/><circle cx="286.5" cy="357.0" r="2.9"/><circle cx="268.0" cy="357.2" r="2.9"/><circle cx="274.2" cy="357.4" r="2.9"/></g>
<path d="M50.5 571.3 L51.5 571.3 L52.5 571.3 L53.5 571.3 L54.5 571.3 L55.5 571.3 L56.5 571.3 L57.5 571.3 L58.5 571.3 L59.5 571.3 L60.5 571.3 L61.5 571.3 L62.5 571.3 L63.5 571.3 L64.5 571.3 L65.5 571.3 L66.5 571.3 L67.5 571.3 L68.5 571.3 L69.5 571.3 L70.5 571.3 L71.5 571.3 L72.5 571.3 L73.5 571.3 L74.5 571.3 L75.5 571.3 L76.5 571.3 L77.5 571.3 L78.5 571.3 L79.5 571.3 L80.5 571.3 L81.5 571.3 L82.5 571.3 L83.5 571.3 L84.5 571.3 L85.5 571.3 L86.5 571.3 L87.5 571.3 L88.5 571.3 L89.5 571.3 L90.5 571.3 L91.5 571.3 L92.5 571.3 L93.5 571.3 L94.5 571.3 L95.5 571.3 L96.5 571.3 L97.5 571.3 L98.5 571.3 L99.5 571.3 L100.5 571.3 L101.5 571.3 L102.5 571.3 L103.5 571.3 L104.5 571.3 L105.5 571.3 L106.5 571.3 L107.5 571.3 L108.5 571.3 L109.5 571.3 L110.5 571.3 L111.5 571.3 L112.5 571.3 L113.5 571.3 L114.5 571.3 L115.5 571.3 L116.5 571.3 L117.5 571.3 L118.5 571.3 L119.5 571.3 L120.5 571.3 L121.5 571.3 L122.5 571.3 L123.5 571.3 L124.5 571.3 L125.5 571.3 L126.5 571.3 L127.5 571.3 L128.5 571.3 L129.5 571.3 L130.5 571.3 L131.5 571.3 L132.5 571.3 L133.5 571.3 L134.5 571.3 L135.5 571.3 L136.5 571.3 L137.5 571.3 L138.5 571.3 L139.5 571.3 L140.5 571.3 L141.5 571.3 L142.5 571.3 L143.5 571.3 L144.5 571.3 L145.5 571.3 L146.5 571.3 L147.5 571.3 L148.5 571.3 L149.5 571.3 L150.5 571.3 L151.5 571.3 L152.5 571.3 L153.5 571.3 L154.5 571.3 L155.5 571.3 L156.5 571.3 L157.5 571.3 L158.5 571.3 L159.5 571.3 L160.5 571.3 L161.5 571.3 L162.5 571.3 L163.5 571.3 L164.5 571.3 L165.5 571.3 L166.5 571.2 L167.5 571.2 L168.5 571.2 L169.5 571.2 L170.5 571.2 L171.5 571.2 L172.5 571.2 L173.5 571.2 L174.5 571.2 L175.5 571.2 L176.5 571.1 L177.5 571.1 L178.5 571.1 L179.5 571.1 L180.5 571.1 L181.5 571.1 L182.5 571.0 L183.5 570.9 L184.5 570.8 L185.5 570.7 L186.5 570.6 L187.5 570.5 L188.5 570.4 L189.5 570.2 L190.4 570.0 L191.4 569.7 L192.4 569.4 L193.3 569.1 L194.2 568.7 L195.2 568.3 L196.0 567.8 L196.8 567.3 L197.6 566.7 L198.4 566.0 L199.2 565.3 L199.9 564.6 L200.5 563.9 L201.2 563.1 L201.8 562.3 L202.4 561.5 L202.9 560.7 L203.5 559.8 L204.0 558.9 L204.4 558.1 L204.9 557.2 L205.3 556.3 L205.8 555.4 L206.2 554.5 L206.6 553.5 L206.9 552.6 L207.3 551.7 L207.7 550.8 L208.1 549.8 L208.4 548.9 L208.8 548.0 L209.1 547.0 L209.5 546.1 L209.9 545.2 L210.2 544.2 L210.5 543.3 L210.9 542.3 L211.2 541.4 L211.5 540.4 L211.8 539.5 L212.0 538.5 L212.3 537.5 L212.6 536.6 L212.8 535.6 L213.0 534.6 L213.3 533.7 L213.5 532.7 L213.7 531.7 L214.0 530.7 L214.2 529.8 L214.4 528.8 L214.6 527.8 L214.9 526.8 L215.1 525.9 L215.3 524.9 L215.5 523.9 L215.7 522.9 L215.9 522.0 L216.1 521.0 L216.3 520.0 L216.5 519.0 L216.6 518.0 L216.8 517.0 L216.9 516.0 L217.1 515.1 L217.2 514.1 L217.3 513.1 L217.4 512.1 L217.6 511.1 L217.7 510.1 L217.8 509.1 L217.9 508.1 L218.0 507.1 L218.2 506.1 L218.3 505.1 L218.4 504.1 L218.5 503.1 L218.6 502.1 L218.7 501.1 L218.9 500.2 L219.0 499.2 L219.1 498.2 L219.2 497.2 L219.3 496.2 L219.4 495.2 L219.6 494.2 L219.7 493.2 L219.8 492.2 L219.9 491.2 L220.0 490.2 L220.1 489.2 L220.2 488.2 L220.3 487.2 L220.4 486.2 L220.6 485.2 L220.7 484.3 L220.8 483.3 L220.9 482.3 L221.0 481.3 L221.1 480.3 L221.2 479.3 L221.3 478.3 L221.5 477.3 L221.6 476.3 L221.7 475.3 L221.8 474.3 L221.9 473.3 L222.1 472.3 L222.2 471.3 L222.3 470.3 L222.4 469.4 L222.5 468.4 L222.7 467.4 L222.8 466.4 L222.9 465.4 L223.0 464.4 L223.1 463.4 L223.2 462.4 L223.3 461.4 L223.4 460.4 L223.4 459.4 L223.5 458.4 L223.6 457.4 L223.7 456.4 L223.8 455.4 L223.8 454.4 L223.9 453.4 L224.0 452.4 L224.0 451.4 L224.1 450.4 L224.2 449.4 L224.2 448.4 L224.3 447.4 L224.3 446.4 L224.4 445.4 L224.5 444.4 L224.5 443.4 L224.6 442.5 L224.6 441.5 L224.7 440.5 L224.8 439.5 L224.8 438.5 L224.9 437.5 L224.9 436.5 L225.0 435.5 L225.1 434.5 L225.1 433.5 L225.2 432.5 L225.2 431.5 L225.3 430.5 L225.4 429.5 L225.5 428.5 L225.5 427.5 L225.6 426.5 L225.7 425.5 L225.7 424.5 L225.8 423.5 L225.9 422.5 L226.0 421.5 L226.0 420.5 L226.1 419.5 L226.2 418.5 L226.2 417.5 L226.3 416.5 L226.4 415.5 L226.5 414.5 L226.5 413.5 L226.6 412.5 L226.7 411.5 L226.8 410.5 L226.8 409.5 L226.9 408.5 L227.0 407.5 L227.1 406.5 L227.1 405.5 L227.2 404.5 L227.3 403.5 L227.4 402.5 L227.4 401.5 L227.5 400.6 L227.6 399.6 L227.7 398.6 L227.7 397.6 L227.8 396.6 L227.9 395.6 L227.9 394.6 L228.0 393.6 L228.1 392.6 L228.1 391.6 L228.2 390.6 L228.3 389.6 L228.3 388.6 L228.4 387.6 L228.5 386.6 L228.6 385.6 L228.6 384.6 L228.7 383.6 L228.8 382.6 L228.9 381.6 L229.0 380.6 L229.1 379.6 L229.2 378.6 L229.3 377.6 L229.4 376.6 L229.5 375.6 L229.6 374.6 L229.7 373.6 L229.8 372.6 L230.0 371.7 L230.1 370.7 L230.2 369.7 L230.4 368.7 L230.6 367.7 L230.8 366.7 L231.1 365.8 L231.4 364.8 L231.9 363.8 L232.4 363.0 L233.0 362.3 L233.8 361.7 L234.7 361.2 L235.7 360.8 L236.6 360.5 L237.6 360.4 L238.6 360.2 L239.6 360.1 L240.6 360.0 L241.6 359.9 L242.6 359.9 L243.6 359.8 L244.6 359.8 L245.6 359.7 L246.6 359.7 L247.6 359.7 L248.6 359.6 L249.6 359.6 L250.6 359.6 L251.6 359.6 L252.6 359.6 L253.6 359.5 L254.6 359.5 L255.6 359.5 L256.6 359.5 L257.6 359.5 L258.6 359.5 L259.6 359.5 L260.6 359.5 L261.6 359.5 L262.6 359.4 L263.6 359.4 L264.6 359.4 L265.6 359.4 L266.6 359.4 L267.6 359.4 L268.6 359.4 L269.6 359.4 L270.6 359.4 L271.6 359.4 L272.6 359.4 L273.6 359.4 L274.6 359.3 L275.6 359.3 L276.6 359.3 L277.6 359.3 L278.6 359.3 L279.6 359.3 L280.6 359.3 L281.6 359.3 L282.6 359.3 L283.6 359.3 L284.6 359.3 L285.6 359.3 L286.6 359.3 L287.6 359.3 L288.6 359.3 L289.6 359.3 L290.6 359.3 L291.6 359.3 L292.6 359.3 L293.6 359.3 L294.6 359.3 L295.6 359.3 L296.6 359.3 L297.6 359.3 L298.6 359.3 L299.6 359.3 L300.6 359.3 L301.6 359.3 L302.6 359.3 L303.6 359.3 L304.6 359.3 L305.6 359.3 L306.6 359.3 L307.6 359.3 L308.6 359.3 L309.6 359.3 L310.6 359.3 L311.6 359.3 L312.6 359.3 L313.6 359.3 L314.6 359.3 L315.6 359.3 L316.6 359.3 L317.6 359.3 L318.6 359.3 L319.6 359.3 L320.6 359.3 L321.6 359.3 L322.6 359.3 L323.6 359.3 L324.6 359.3 L325.6 359.3 L326.6 359.3 L327.6 359.3 L328.6 359.3 L329.6 359.3 L330.6 359.3 L331.6 359.3 L332.6 359.3 L333.6 359.3 L334.6 359.3 L335.6 359.3 L336.6 359.3 L337.6 359.3 L338.6 359.3 L339.6 359.3 L340.6 359.3 L341.6 359.3 L342.6 359.3 L343.6 359.3 L344.6 359.3 L345.6 359.3 L346.6 359.3 L347.6 359.3 L348.6 359.3 L349.6 359.3 L350.6 359.3 L351.6 359.3 L352.6 359.3 L353.6 359.3 L354.6 359.3 L355.6 359.3 L356.6 359.3 L357.6 359.3 L358.6 359.3 L359.6 359.3 L360.6 359.3 L361.6 359.3 L362.6 359.3 L363.6 359.3 L364.6 359.3 L365.6 359.3 L366.6 359.3 L367.6 359.3 L368.6 359.3 L369.5 359.3" fill="none" stroke="#1faa4e" stroke-width="1.75" stroke-linejoin="round"/>
<circle cx="74.5" cy="336.8" r="3.25" fill="none" stroke="#1faa4e" stroke-width="1.15"/>
<text x="82.9" y="341.5" font-size="13.6">EDS measurements</text>
<path d="M56.2 359.7 H79.6" stroke="#1faa4e" stroke-width="1.8" fill="none"/>
<text x="82.2" y="362.3" font-size="13.6">Calculations</text>
<text x="241.5" y="548.7" font-size="18" font-weight="bold">(c)</text>
<text x="265.1" y="548.7" font-size="13.5">Al profile:</text>
<text x="247.3" y="564.3" font-size="13.5">B-D couple, 1023 K</text>
</g>
<g>
<rect x="458.0" y="320.7" width="318.5" height="251.7" fill="none" stroke="#757575" stroke-width="1"/>
<text x="458.00" y="590.5" text-anchor="middle" font-size="13.5">0</text>
<path d="M521.70 572.4 v-3.7 M521.70 320.7 v3.7" stroke="#757575" stroke-width="1" fill="none"/>
<text x="522.90" y="590.5" text-anchor="middle" font-size="13.5">10</text>
<path d="M585.40 572.4 v-3.7 M585.40 320.7 v3.7" stroke="#757575" stroke-width="1" fill="none"/>
<text x="586.60" y="590.5" text-anchor="middle" font-size="13.5">20</text>
<path d="M649.10 572.4 v-3.7 M649.10 320.7 v3.7" stroke="#757575" stroke-width="1" fill="none"/>
<text x="650.30" y="590.5" text-anchor="middle" font-size="13.5">30</text>
<path d="M712.80 572.4 v-3.7 M712.80 320.7 v3.7" stroke="#757575" stroke-width="1" fill="none"/>
<text x="714.00" y="590.5" text-anchor="middle" font-size="13.5">40</text>
<text x="777.70" y="590.5" text-anchor="middle" font-size="13.5">50</text>
<text x="448.9" y="576.80" text-anchor="end" font-size="13.5">0</text>
<path d="M458.0 547.23 h3.7 M776.5 547.23 h-3.7" stroke="#757575" stroke-width="1" fill="none"/>
<text x="452.4" y="551.63" text-anchor="end" font-size="13.5">0.002</text>
<path d="M458.0 522.06 h3.7 M776.5 522.06 h-3.7" stroke="#757575" stroke-width="1" fill="none"/>
<text x="452.4" y="526.46" text-anchor="end" font-size="13.5">0.004</text>
<path d="M458.0 496.89 h3.7 M776.5 496.89 h-3.7" stroke="#757575" stroke-width="1" fill="none"/>
<text x="452.4" y="501.29" text-anchor="end" font-size="13.5">0.006</text>
<path d="M458.0 471.72 h3.7 M776.5 471.72 h-3.7" stroke="#757575" stroke-width="1" fill="none"/>
<text x="452.4" y="476.12" text-anchor="end" font-size="13.5">0.008</text>
<path d="M458.0 446.55 h3.7 M776.5 446.55 h-3.7" stroke="#757575" stroke-width="1" fill="none"/>
<text x="452.4" y="450.95" text-anchor="end" font-size="13.5">0.01</text>
<path d="M458.0 421.38 h3.7 M776.5 421.38 h-3.7" stroke="#757575" stroke-width="1" fill="none"/>
<text x="452.4" y="425.78" text-anchor="end" font-size="13.5">0.012</text>
<path d="M458.0 396.21 h3.7 M776.5 396.21 h-3.7" stroke="#757575" stroke-width="1" fill="none"/>
<text x="452.4" y="400.61" text-anchor="end" font-size="13.5">0.014</text>
<path d="M458.0 371.04 h3.7 M776.5 371.04 h-3.7" stroke="#757575" stroke-width="1" fill="none"/>
<text x="452.4" y="375.44" text-anchor="end" font-size="13.5">0.016</text>
<path d="M458.0 345.87 h3.7 M776.5 345.87 h-3.7" stroke="#757575" stroke-width="1" fill="none"/>
<text x="452.4" y="350.27" text-anchor="end" font-size="13.5">0.018</text>
<text x="452.4" y="325.10" text-anchor="end" font-size="13.5">0.02</text>
<text transform="translate(415.8 435.5) rotate(-90)" text-anchor="middle" font-size="16.6">Mole fraction V</text>
<text x="616.3" y="611.3" text-anchor="middle" font-size="17">distance, μm</text>
<g fill="none" stroke="#0000ff" stroke-width="0.75"><circle cx="636.7" cy="399.3" r="2.8"/><circle cx="636.1" cy="412.4" r="2.8"/><circle cx="636.7" cy="437.3" r="2.8"/><circle cx="643.1" cy="438.8" r="2.8"/><circle cx="636.7" cy="447.0" r="2.8"/><circle cx="642.2" cy="466.2" r="2.8"/><circle cx="649.4" cy="477.4" r="2.8"/><circle cx="655.7" cy="491.7" r="2.8"/><circle cx="643.1" cy="498.0" r="2.8"/><circle cx="643.3" cy="506.8" r="2.8"/><circle cx="648.5" cy="512.7" r="2.8"/><circle cx="649.4" cy="533.2" r="2.8"/><circle cx="655.3" cy="539.5" r="2.8"/><circle cx="649.4" cy="542.0" r="2.8"/><circle cx="655.9" cy="549.6" r="2.8"/><circle cx="662.0" cy="549.4" r="2.8"/><circle cx="661.6" cy="554.6" r="2.8"/><circle cx="656.3" cy="558.4" r="2.8"/><circle cx="668.5" cy="559.9" r="2.8"/><circle cx="675.3" cy="557.4" r="2.8"/><circle cx="681.2" cy="559.5" r="2.8"/><circle cx="687.9" cy="560.1" r="2.8"/><circle cx="662.6" cy="565.8" r="2.8"/><circle cx="667.9" cy="562.6" r="2.8"/><circle cx="674.2" cy="565.4" r="2.8"/><circle cx="681.6" cy="565.8" r="2.8"/><circle cx="687.5" cy="565.8" r="2.8"/><circle cx="693.2" cy="566.8" r="2.8"/><circle cx="700.5" cy="564.7" r="2.8"/><circle cx="706.8" cy="562.6" r="2.8"/><circle cx="662.6" cy="570.4" r="2.8"/><circle cx="668.9" cy="570.0" r="2.8"/><circle cx="687.9" cy="572.1" r="2.8"/><circle cx="694.2" cy="571.7" r="2.8"/><circle cx="700.5" cy="572.1" r="2.8"/><circle cx="457.6" cy="345.4" r="2.8"/><circle cx="464.1" cy="344.3" r="2.8"/><circle cx="477.7" cy="355.5" r="2.8"/><circle cx="470.3" cy="360.7" r="2.8"/><circle cx="476.8" cy="359.6" r="2.8"/><circle cx="483.8" cy="362.9" r="2.8"/><circle cx="478.0" cy="368.5" r="2.8"/><circle cx="490.0" cy="355.1" r="2.8"/><circle cx="496.5" cy="355.1" r="2.8"/><circle cx="503.0" cy="355.1" r="2.8"/><circle cx="509.2" cy="355.5" r="2.8"/><circle cx="490.0" cy="358.3" r="2.8"/><circle cx="496.2" cy="359.0" r="2.8"/><circle cx="503.2" cy="360.3" r="2.8"/><circle cx="509.2" cy="358.3" r="2.8"/><circle cx="489.4" cy="368.3" r="2.8"/><circle cx="496.8" cy="368.3" r="2.8"/><circle cx="503.2" cy="368.1" r="2.8"/><circle cx="502.0" cy="372.4" r="2.8"/><circle cx="509.5" cy="363.3" r="2.8"/><circle cx="515.3" cy="359.0" r="2.8"/><circle cx="515.3" cy="362.2" r="2.8"/><circle cx="522.2" cy="355.8" r="2.8"/><circle cx="522.4" cy="361.6" r="2.8"/><circle cx="528.7" cy="362.2" r="2.8"/><circle cx="527.6" cy="367.2" r="2.8"/><circle cx="521.8" cy="372.6" r="2.8"/><circle cx="534.8" cy="358.6" r="2.8"/><circle cx="541.3" cy="358.6" r="2.8"/><circle cx="534.4" cy="371.3" r="2.8"/><circle cx="533.9" cy="374.6" r="2.8"/><circle cx="541.3" cy="369.4" r="2.8"/><circle cx="540.9" cy="375.9" r="2.8"/><circle cx="548.1" cy="364.2" r="2.8"/><circle cx="547.3" cy="372.6" r="2.8"/><circle cx="547.3" cy="378.5" r="2.8"/><circle cx="553.6" cy="366.1" r="2.8"/><circle cx="553.7" cy="369.4" r="2.8"/><circle cx="554.0" cy="372.6" r="2.8"/><circle cx="560.9" cy="368.5" r="2.8"/><circle cx="566.7" cy="368.1" r="2.8"/><circle cx="560.1" cy="372.0" r="2.8"/><circle cx="566.3" cy="372.0" r="2.8"/><circle cx="560.1" cy="375.2" r="2.8"/><circle cx="566.1" cy="373.9" r="2.8"/><circle cx="573.5" cy="370.7" r="2.8"/><circle cx="579.7" cy="368.7" r="2.8"/><circle cx="572.8" cy="373.9" r="2.8"/><circle cx="579.3" cy="375.2" r="2.8"/><circle cx="573.1" cy="378.5" r="2.8"/><circle cx="578.6" cy="380.7" r="2.8"/><circle cx="585.8" cy="373.3" r="2.8"/><circle cx="592.0" cy="372.0" r="2.8"/><circle cx="598.5" cy="371.6" r="2.8"/><circle cx="592.0" cy="373.3" r="2.8"/><circle cx="598.5" cy="373.3" r="2.8"/><circle cx="586.0" cy="383.2" r="2.8"/><circle cx="592.6" cy="382.7" r="2.8"/><circle cx="597.4" cy="379.1" r="2.8"/><circle cx="604.6" cy="377.2" r="2.8"/><circle cx="605.0" cy="378.5" r="2.8"/><circle cx="598.7" cy="393.4" r="2.8"/><circle cx="605.2" cy="392.1" r="2.8"/><circle cx="611.1" cy="373.3" r="2.8"/><circle cx="617.5" cy="376.5" r="2.8"/><circle cx="618.2" cy="379.7" r="2.8"/><circle cx="624.4" cy="379.1" r="2.8"/><circle cx="611.1" cy="383.0" r="2.8"/><circle cx="611.5" cy="386.2" r="2.8"/><circle cx="617.2" cy="386.6" r="2.8"/><circle cx="623.6" cy="384.0" r="2.8"/><circle cx="624.4" cy="389.5" r="2.8"/><circle cx="629.2" cy="388.2" r="2.8"/><circle cx="629.2" cy="392.1" r="2.8"/><circle cx="617.5" cy="402.2" r="2.8"/><circle cx="629.2" cy="398.6" r="2.8"/><circle cx="706.5" cy="570.7" r="2.8"/><circle cx="713.1" cy="564.6" r="2.8"/><circle cx="713.6" cy="572.7" r="2.8"/><circle cx="719.4" cy="563.0" r="2.8"/><circle cx="719.7" cy="567.6" r="2.8"/><circle cx="725.8" cy="566.1" r="2.8"/><circle cx="726.4" cy="568.6" r="2.8"/><circle cx="732.0" cy="562.0" r="2.8"/><circle cx="732.5" cy="568.6" r="2.8"/><circle cx="732.5" cy="564.1" r="2.8"/><circle cx="738.6" cy="566.6" r="2.8"/><circle cx="738.6" cy="572.2" r="2.8"/><circle cx="744.6" cy="559.5" r="2.8"/><circle cx="745.3" cy="566.6" r="2.8"/><circle cx="745.3" cy="571.7" r="2.8"/><circle cx="751.4" cy="562.5" r="2.8"/><circle cx="751.4" cy="571.2" r="2.8"/><circle cx="751.4" cy="573.2" r="2.8"/><circle cx="757.5" cy="564.6" r="2.8"/><circle cx="757.8" cy="566.1" r="2.8"/><circle cx="764.6" cy="562.5" r="2.8"/><circle cx="764.1" cy="563.5" r="2.8"/><circle cx="770.7" cy="558.4" r="2.8"/><circle cx="771.3" cy="568.1" r="2.8"/><circle cx="776.4" cy="572.2" r="2.8"/><circle cx="707.0" cy="571.7" r="2.8"/><circle cx="720.3" cy="570.7" r="2.8"/><circle cx="726.5" cy="571.5" r="2.8"/><circle cx="732.8" cy="571.8" r="2.8"/><circle cx="758.0" cy="571.5" r="2.8"/><circle cx="764.5" cy="571.6" r="2.8"/><circle cx="771.0" cy="571.8" r="2.8"/><circle cx="604.2" cy="362.2" r="2.8"/><circle cx="610.4" cy="365.9" r="2.8"/></g>
<path d="M458.0 358.3 L459.0 358.3 L460.0 358.4 L461.0 358.5 L462.0 358.5 L463.0 358.6 L464.0 358.6 L465.0 358.7 L466.0 358.8 L467.0 358.8 L468.0 358.9 L469.0 359.0 L470.0 359.0 L471.0 359.1 L472.0 359.2 L473.0 359.3 L474.0 359.3 L475.0 359.4 L476.0 359.5 L477.0 359.6 L478.0 359.6 L479.0 359.7 L479.9 359.8 L480.9 359.9 L481.9 360.0 L482.9 360.1 L483.9 360.2 L484.9 360.3 L485.9 360.4 L486.9 360.5 L487.9 360.6 L488.9 360.7 L489.9 360.8 L490.9 360.9 L491.9 361.0 L492.9 361.1 L493.9 361.2 L494.9 361.3 L495.9 361.4 L496.9 361.6 L497.9 361.7 L498.9 361.8 L499.8 361.9 L500.8 362.1 L501.8 362.2 L502.8 362.3 L503.8 362.5 L504.8 362.6 L505.8 362.7 L506.8 362.9 L507.8 363.0 L508.7 363.2 L509.7 363.3 L510.7 363.5 L511.7 363.7 L512.7 363.8 L513.7 364.0 L514.7 364.2 L515.6 364.4 L516.6 364.6 L517.6 364.8 L518.6 365.0 L519.6 365.2 L520.5 365.4 L521.5 365.6 L522.5 365.8 L523.5 366.0 L524.5 366.2 L525.4 366.5 L526.4 366.7 L527.4 366.9 L528.4 367.1 L529.3 367.3 L530.3 367.5 L531.3 367.8 L532.3 368.0 L533.2 368.2 L534.2 368.4 L535.2 368.6 L536.2 368.9 L537.1 369.1 L538.1 369.3 L539.1 369.5 L540.1 369.8 L541.1 370.0 L542.0 370.2 L543.0 370.5 L544.0 370.7 L544.9 370.9 L545.9 371.2 L546.9 371.4 L547.9 371.7 L548.8 371.9 L549.8 372.2 L550.8 372.4 L551.7 372.7 L552.7 373.0 L553.6 373.2 L554.6 373.5 L555.6 373.8 L556.5 374.1 L557.5 374.4 L558.4 374.7 L559.4 375.0 L560.3 375.3 L561.2 375.7 L562.2 376.0 L563.1 376.3 L564.0 376.7 L565.0 377.1 L565.9 377.4 L566.8 377.8 L567.8 378.1 L568.7 378.5 L569.6 378.9 L570.6 379.3 L571.5 379.6 L572.4 380.0 L573.4 380.4 L574.3 380.7 L575.2 381.1 L576.2 381.5 L577.1 381.8 L578.0 382.2 L579.0 382.5 L579.9 382.9 L580.9 383.2 L581.8 383.6 L582.7 383.9 L583.7 384.2 L584.6 384.5 L585.6 384.8 L586.5 385.1 L587.5 385.4 L588.4 385.7 L589.4 386.0 L590.4 386.3 L591.3 386.6 L592.3 386.9 L593.2 387.2 L594.2 387.5 L595.1 387.8 L596.1 388.2 L597.0 388.5 L598.0 388.8 L598.9 389.1 L599.9 389.4 L600.8 389.8 L601.7 390.1 L602.7 390.5 L603.6 390.8 L604.6 391.2 L605.5 391.5 L606.4 391.9 L607.4 392.2 L608.3 392.6 L609.2 393.0 L610.1 393.4 L611.0 393.9 L611.9 394.3 L612.8 394.8 L613.6 395.3 L614.5 395.8 L615.4 396.3 L616.2 396.8 L617.1 397.4 L617.9 397.9 L618.8 398.4 L619.6 399.0 L620.4 399.5 L621.3 400.1 L622.1 400.7 L622.9 401.2 L623.7 401.8 L624.5 402.4 L625.3 403.0 L626.1 403.6 L626.9 404.2 L627.7 404.8 L628.6 405.4 L629.4 406.0 L630.3 406.5 L631.0 407.1 L631.7 407.8 L632.3 408.6 L632.8 409.5 L633.3 410.4 L633.8 411.3 L634.1 412.2 L634.5 413.1 L634.9 414.1 L635.2 415.0 L635.5 416.0 L635.8 417.0 L636.0 417.9 L636.2 418.9 L636.4 419.9 L636.6 420.8 L636.8 421.8 L636.9 422.8 L637.0 423.8 L637.2 424.8 L637.3 425.8 L637.4 426.8 L637.6 427.8 L637.7 428.8 L637.8 429.8 L638.0 430.8 L638.1 431.8 L638.2 432.8 L638.4 433.7 L638.5 434.7 L638.6 435.7 L638.8 436.7 L638.9 437.7 L639.0 438.7 L639.1 439.7 L639.2 440.7 L639.3 441.7 L639.4 442.7 L639.6 443.7 L639.7 444.7 L639.8 445.7 L639.9 446.7 L640.0 447.7 L640.1 448.6 L640.2 449.6 L640.3 450.6 L640.4 451.6 L640.5 452.6 L640.6 453.6 L640.7 454.6 L640.8 455.6 L640.9 456.6 L641.0 457.6 L641.1 458.6 L641.2 459.6 L641.3 460.6 L641.4 461.6 L641.6 462.6 L641.7 463.6 L641.8 464.6 L641.9 465.5 L642.0 466.5 L642.1 467.5 L642.2 468.5 L642.3 469.5 L642.4 470.5 L642.6 471.5 L642.7 472.5 L642.8 473.5 L642.9 474.5 L643.0 475.5 L643.2 476.5 L643.3 477.5 L643.4 478.5 L643.5 479.4 L643.7 480.4 L643.8 481.4 L643.9 482.4 L644.0 483.4 L644.2 484.4 L644.3 485.4 L644.4 486.4 L644.6 487.4 L644.7 488.4 L644.8 489.4 L645.0 490.4 L645.1 491.4 L645.2 492.3 L645.4 493.3 L645.5 494.3 L645.6 495.3 L645.8 496.3 L645.9 497.3 L646.1 498.3 L646.2 499.3 L646.4 500.3 L646.5 501.3 L646.7 502.2 L646.8 503.2 L647.0 504.2 L647.2 505.2 L647.3 506.2 L647.5 507.2 L647.7 508.2 L647.8 509.1 L648.0 510.1 L648.2 511.1 L648.4 512.1 L648.6 513.1 L648.8 514.0 L649.1 515.0 L649.3 516.0 L649.5 517.0 L649.7 517.9 L649.9 518.9 L650.1 519.9 L650.3 520.9 L650.5 521.9 L650.7 522.8 L650.9 523.8 L651.1 524.8 L651.3 525.8 L651.4 526.8 L651.6 527.8 L651.8 528.7 L652.0 529.7 L652.3 530.7 L652.5 531.7 L652.7 532.6 L653.0 533.6 L653.2 534.6 L653.5 535.5 L653.7 536.5 L654.0 537.5 L654.3 538.4 L654.6 539.4 L654.8 540.3 L655.2 541.3 L655.5 542.2 L655.8 543.2 L656.1 544.1 L656.5 545.1 L656.8 546.0 L657.2 547.0 L657.5 547.9 L657.9 548.8 L658.2 549.8 L658.6 550.7 L659.0 551.6 L659.3 552.6 L659.7 553.5 L660.1 554.5 L660.5 555.4 L660.9 556.3 L661.4 557.2 L661.9 558.0 L662.4 558.9 L662.9 559.7 L663.5 560.5 L664.1 561.3 L664.7 562.1 L665.4 562.9 L666.1 563.6 L666.8 564.3 L667.6 564.9 L668.4 565.5 L669.2 566.0 L670.1 566.6 L671.0 567.1 L671.9 567.6 L672.8 568.0 L673.7 568.3 L674.6 568.6 L675.6 568.9 L676.5 569.2 L677.5 569.5 L678.5 569.7 L679.5 570.0 L680.5 570.1 L681.5 570.3 L682.5 570.4 L683.5 570.5 L684.4 570.6 L685.4 570.7 L686.4 570.8 L687.4 570.9 L688.4 571.0 L689.4 571.0 L690.4 571.1 L691.4 571.1 L692.4 571.2 L693.4 571.2 L694.4 571.2 L695.4 571.2 L696.4 571.2 L697.4 571.2 L698.4 571.2 L699.4 571.2 L700.4 571.2 L701.4 571.2 L702.4 571.2 L703.4 571.2 L704.4 571.2 L705.4 571.2 L706.4 571.2 L707.4 571.2 L708.4 571.2 L709.4 571.2 L710.4 571.2 L711.4 571.2 L712.4 571.2 L713.4 571.2 L714.4 571.2 L715.4 571.3 L716.4 571.3 L717.4 571.3 L718.4 571.3 L719.4 571.3 L720.4 571.3 L721.4 571.3 L722.4 571.3 L723.4 571.3 L724.4 571.3 L725.4 571.3 L726.4 571.3 L727.4 571.3 L728.4 571.3 L729.4 571.3 L730.4 571.3 L731.4 571.3 L732.4 571.3 L733.4 571.3 L734.4 571.3 L735.4 571.3 L736.4 571.3 L737.4 571.3 L738.4 571.3 L739.4 571.3 L740.4 571.3 L741.4 571.3 L742.4 571.3 L743.4 571.3 L744.4 571.3 L745.4 571.3 L746.4 571.3 L747.4 571.3 L748.4 571.3 L749.4 571.3 L750.4 571.3 L751.4 571.3 L752.4 571.3 L753.4 571.3 L754.4 571.3 L755.4 571.3 L756.4 571.3 L757.4 571.3 L758.4 571.3 L759.4 571.3 L760.4 571.3 L761.4 571.3 L762.4 571.3 L763.4 571.3 L764.4 571.3 L765.4 571.3 L766.4 571.3 L767.4 571.3 L768.4 571.3 L769.4 571.3 L770.4 571.3 L771.4 571.3 L772.4 571.3 L773.4 571.3 L774.4 571.3 L775.4 571.3 L776.4 571.3 L776.5 571.3" fill="none" stroke="#0000ff" stroke-width="1.75" stroke-linejoin="round"/>
<circle cx="485.2" cy="536.4" r="3.25" fill="none" stroke="#0000ff" stroke-width="1.15"/>
<text x="493.9" y="541.1" font-size="13.6">EDS measurements</text>
<path d="M466.6 559.2 H490.1" stroke="#0000ff" stroke-width="1.8" fill="none"/>
<text x="493.09999999999997" y="561.5" font-size="13.6">Calculations</text>
<text x="575.3" y="341.6" font-size="18" font-weight="bold">(d)</text>
<text x="603.2" y="341.6" font-size="13.6">V profile: B-D couple, 1023 K</text>
</g>
</svg></body></html>
